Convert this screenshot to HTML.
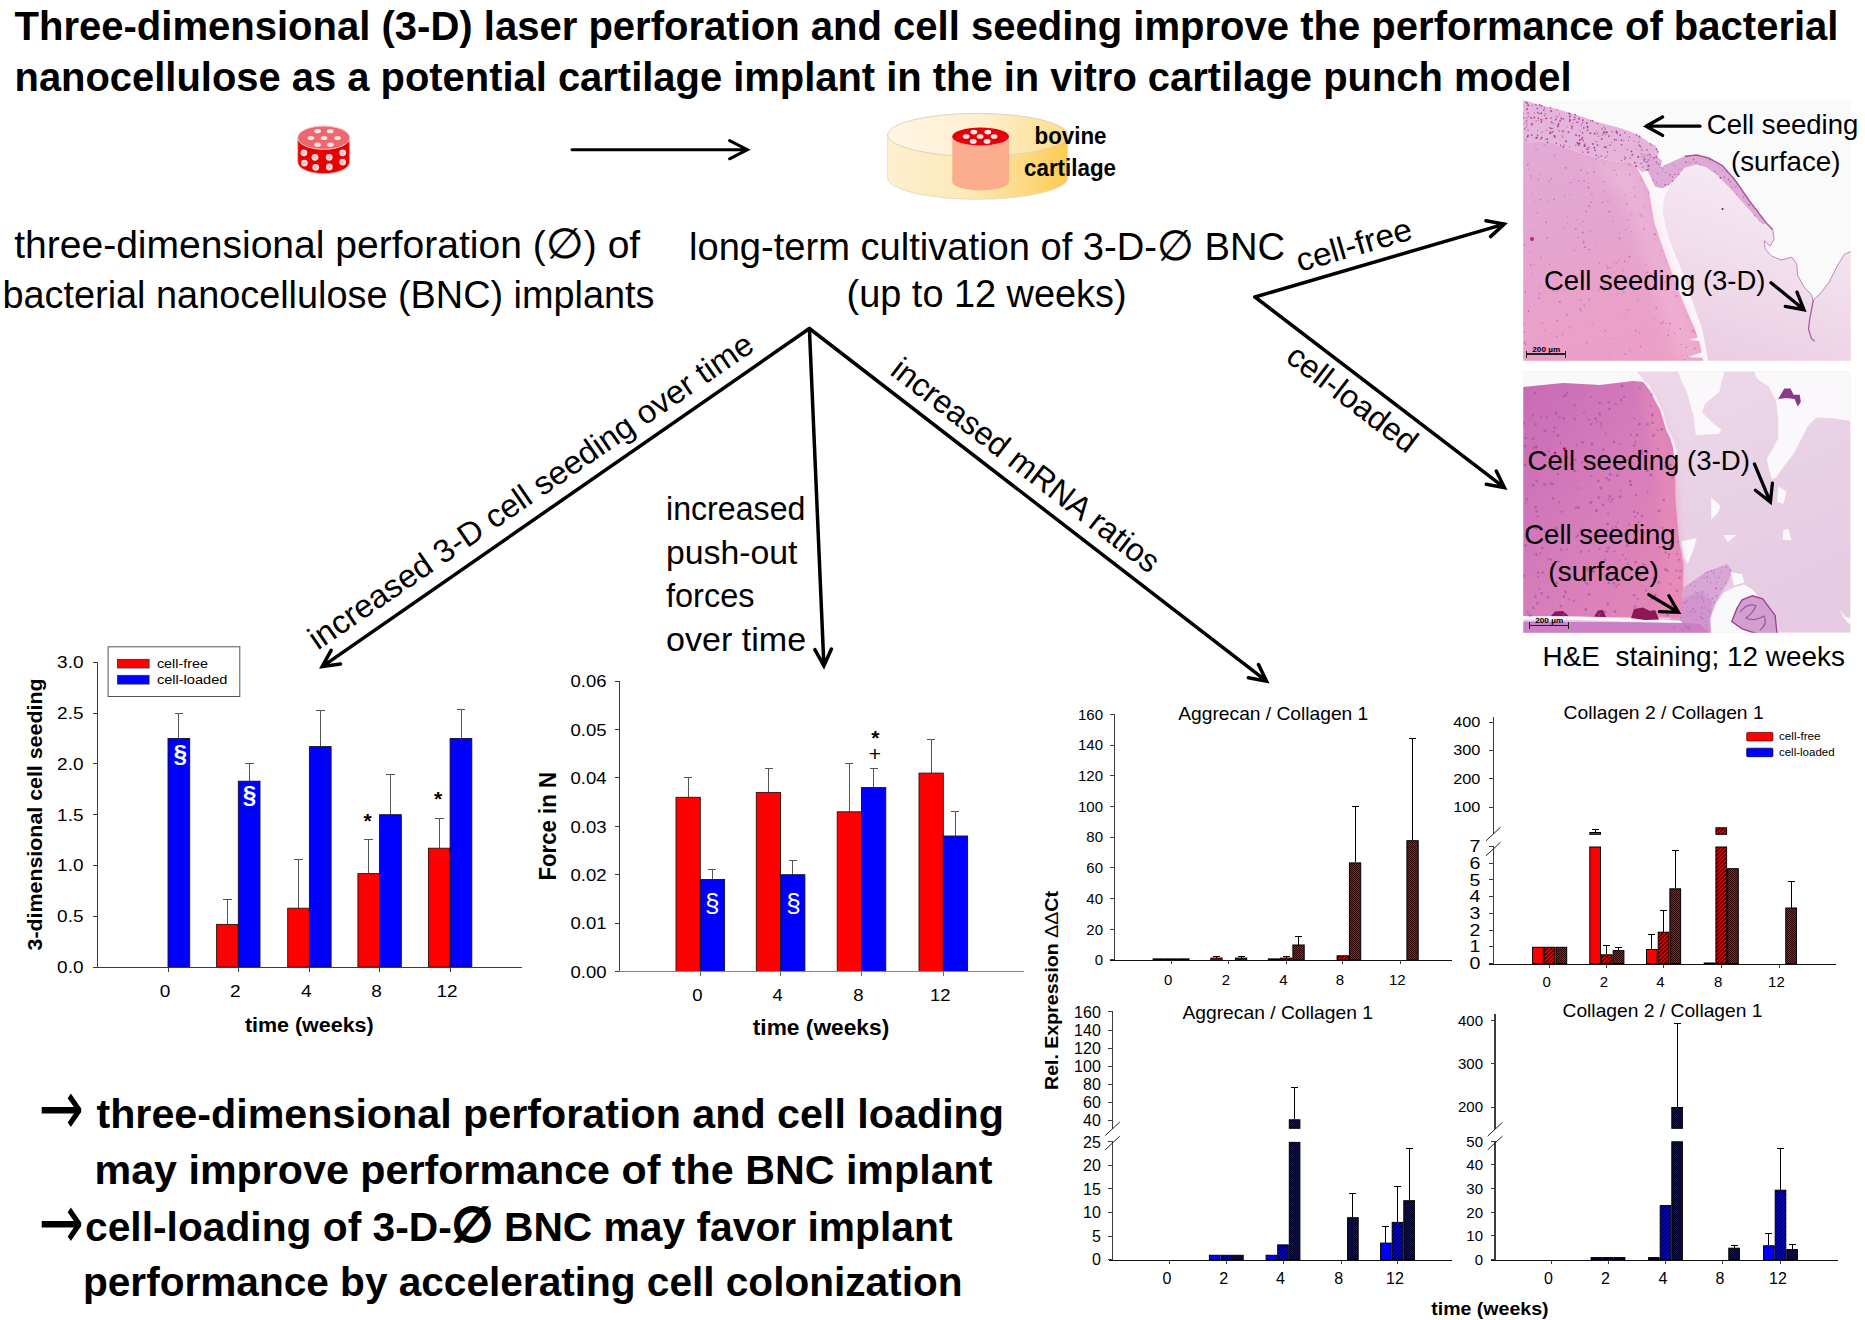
<!DOCTYPE html>
<html lang="en"><head><meta charset="utf-8"><title>Graphical abstract</title>
<style>
html,body{margin:0;padding:0;background:#fff}
body{width:1865px;height:1320px;overflow:hidden}
svg{display:block}
text{font-family:"Liberation Sans", sans-serif;white-space:pre}
</style></head><body>
<svg width="1865" height="1320" viewBox="0 0 1865 1320">
<rect width="1865" height="1320" fill="#fff"/>
<defs><clipPath id="c1"><rect x="1523.2" y="99.5" width="327.6" height="261.3"/></clipPath><filter id="b1" x="-5%" y="-5%" width="110%" height="110%"><feGaussianBlur stdDeviation="0.7"/></filter><filter id="b3" x="-10%" y="-10%" width="120%" height="120%"><feGaussianBlur stdDeviation="5"/></filter><filter id="b4" x="-30%" y="-30%" width="160%" height="160%"><feGaussianBlur stdDeviation="9"/></filter><linearGradient id="gA1" x1="0" y1="0" x2="0.25" y2="1"><stop offset="0" stop-color="#e3aad6"/><stop offset="0.45" stop-color="#e4a4d0"/><stop offset="1" stop-color="#eb9fc6"/></linearGradient><linearGradient id="gC1" x1="0.6" y1="0" x2="0.3" y2="1"><stop offset="0" stop-color="#f7edf4"/><stop offset="0.5" stop-color="#f1deec"/><stop offset="1" stop-color="#ebcde2"/></linearGradient></defs>
<g clip-path="url(#c1)">
<rect x="1523.2" y="99.5" width="327.6" height="261.3" fill="#fbfafb" />
<g filter="url(#b1)">
<path d="M1520.0 99.5 L1539.3 104.7 L1558.6 109.5 L1577.9 115.3 L1597.2 122.0 L1616.5 126.9 L1631.0 131.7 L1640.6 136.5 L1650.3 143.3 L1655.1 145.2 L1659.0 152.0 L1657.1 156.8 L1650.0 170.0 L1642.0 172.0 L1635.8 166.4 L1631.0 161.6 L1616.5 161.6 L1597.2 157.7 L1577.9 151.9 L1553.8 143.3 L1539.3 141.3 L1520.0 143.5Z" fill="#e4b4da"/>
<path d="M1520.0 143.5 L1539.3 141.3 L1553.8 143.3 L1577.9 151.9 L1597.2 157.7 L1616.5 161.6 L1631.0 161.6 L1635.8 166.4 L1638.7 170.7 L1649.0 191.1 L1654.1 221.8 L1660.9 242.3 L1669.4 266.1 L1679.7 293.4 L1688.2 313.9 L1695.0 329.2 L1700.1 344.5 L1703.5 363.0 L1520.0 363.0Z" fill="url(#gA1)"/>
<path d="M1590 160 L1636 166 L1652 215 L1680 293 L1702 361 L1680 361 L1650 270 L1625 200 Z" fill="#f3c4de" fill-opacity="0.5" filter="url(#b4)"/>
<path d="M1672.8 162.2 L1684.8 156.2 L1696.7 155.0 L1708.6 157.9 L1722.3 165.6 L1735.0 180.0 L1749.3 200.7 L1767.2 224.1 L1772.7 229.6 L1774.1 239.3 L1770.0 246.2 L1764.4 240.7 L1765.1 248.9 L1771.3 255.8 L1781.0 260.0 L1792.0 257.2 L1796.8 264.1 L1797.5 275.1 L1804.4 287.5 L1811.3 294.4 L1813.4 301.3 L1813.4 299.9 L1819.6 294.4 L1829.2 282.0 L1837.5 265.5 L1844.4 254.4 L1852.0 251.0 L1852.0 363.0 L1708.6 363.0 L1705.2 344.5 L1701.8 327.5 L1696.7 313.9 L1689.9 293.4 L1681.4 269.5 L1672.8 249.1 L1666.0 228.6 L1662.6 211.6 L1664.3 196.2 L1671.1 184.3 L1676.4 178.0Z" fill="url(#gC1)"/>
<path d="M1640.6 152.9 L1657.1 156.8 L1661.9 160.6 L1661.0 167.0 L1670.6 162.6 L1684.1 156.2 L1696.7 154.5 L1708.6 157.4 L1722.3 165.1 L1735.0 179.5 L1749.3 200.2 L1767.2 223.6 L1762.0 224.0 L1745.0 205.0 L1730.0 188.0 L1717.0 175.0 L1706.0 167.0 L1696.0 164.5 L1684.1 168.0 L1676.4 178.0 L1670.6 183.8 L1662.8 188.6 L1655.1 186.7 L1648.4 172.2 L1645.5 162.6Z" fill="#dcaad4"/>
<path d="M1684.8 156.2 L1696.7 155.0 L1708.6 157.9 L1722.3 165.6 L1735.0 180.0 L1749.3 200.7 L1767.2 224.1 L1772.7 229.6" fill="none" stroke="#a04898" stroke-width="1.5" stroke-opacity="0.85"/>
<path d="M1772.7 229.6 L1774.1 239.3 L1770.0 246.2 L1764.4 240.7 L1765.1 248.9 L1771.3 255.8 L1781.0 260.0 L1792.0 257.2 L1796.8 264.1 L1797.5 275.1 L1804.4 287.5 L1811.3 294.4 L1813.4 301.3" fill="none" stroke="#b070b0" stroke-width="1" stroke-opacity="0.8"/>
<path d="M1813.4 300.0 L1809.9 317.8 L1808.5 328.9 L1811.3 338.5 L1814.7 341.3" fill="none" stroke="#a04898" stroke-width="1.3" stroke-opacity="0.85"/>
<path d="M1852.0 251.0 L1844.4 254.4 L1837.5 265.5 L1829.2 282.0 L1819.6 294.4 L1813.4 299.9" fill="none" stroke="#b070b0" stroke-width="1" stroke-opacity="0.8"/>
<path d="M1689 340 L1703 336 L1700 341 Z M1688 357 L1706 351 L1707 358 Z" fill="#f9f4f8"/>
</g>
<g fill="#a0308c" fill-opacity="0.8"><circle cx="1569.1" cy="113.2" r="0.8"/><circle cx="1536.1" cy="137.9" r="0.9"/><circle cx="1540.8" cy="119.7" r="0.8"/><circle cx="1657.6" cy="151.7" r="0.7"/><circle cx="1543.7" cy="110.2" r="0.7"/><circle cx="1605.7" cy="157.3" r="0.7"/><circle cx="1531.7" cy="118.1" r="0.8"/><circle cx="1583.8" cy="127.9" r="0.8"/><circle cx="1587.5" cy="126.6" r="0.9"/><circle cx="1604.7" cy="147.0" r="0.9"/><circle cx="1631.6" cy="151.4" r="0.9"/><circle cx="1607.5" cy="152.0" r="0.7"/><circle cx="1526.4" cy="141.3" r="0.6"/><circle cx="1539.8" cy="104.8" r="0.9"/><circle cx="1541.5" cy="121.9" r="0.7"/><circle cx="1586.9" cy="149.2" r="0.9"/><circle cx="1562.7" cy="137.1" r="0.7"/><circle cx="1544.6" cy="115.4" r="0.6"/><circle cx="1556.3" cy="143.4" r="0.8"/><circle cx="1582.6" cy="132.9" r="0.8"/><circle cx="1596.3" cy="155.4" r="0.8"/><circle cx="1636.3" cy="135.0" r="0.7"/><circle cx="1532.0" cy="105.6" r="0.6"/><circle cx="1546.2" cy="130.3" r="0.5"/><circle cx="1523.2" cy="113.2" r="0.6"/><circle cx="1647.2" cy="155.1" r="0.6"/><circle cx="1559.0" cy="130.9" r="0.7"/><circle cx="1537.7" cy="130.5" r="0.6"/><circle cx="1645.6" cy="162.5" r="0.6"/><circle cx="1575.2" cy="114.6" r="0.9"/><circle cx="1569.9" cy="119.7" r="0.9"/><circle cx="1596.6" cy="131.7" r="0.5"/><circle cx="1527.2" cy="124.8" r="0.6"/><circle cx="1574.9" cy="119.5" r="0.6"/><circle cx="1551.1" cy="118.0" r="0.8"/><circle cx="1579.3" cy="135.8" r="1.0"/><circle cx="1541.2" cy="113.2" r="1.0"/><circle cx="1616.4" cy="131.2" r="0.8"/><circle cx="1558.9" cy="126.0" r="0.6"/><circle cx="1588.2" cy="152.3" r="1.0"/><circle cx="1594.3" cy="147.6" r="0.8"/><circle cx="1525.9" cy="139.3" r="0.6"/><circle cx="1547.6" cy="142.4" r="0.9"/><circle cx="1602.1" cy="129.0" r="0.8"/><circle cx="1558.4" cy="124.6" r="0.9"/><circle cx="1595.2" cy="150.3" r="0.9"/><circle cx="1610.1" cy="145.3" r="0.8"/><circle cx="1621.4" cy="140.4" r="0.8"/><circle cx="1540.4" cy="139.5" r="0.5"/><circle cx="1624.7" cy="159.3" r="0.6"/><circle cx="1579.7" cy="143.6" r="1.0"/><circle cx="1584.4" cy="146.2" r="0.7"/><circle cx="1551.0" cy="128.3" r="0.9"/><circle cx="1541.6" cy="137.7" r="1.0"/><circle cx="1535.9" cy="104.7" r="0.8"/><circle cx="1656.3" cy="156.9" r="0.9"/><circle cx="1587.5" cy="130.2" r="0.8"/><circle cx="1557.0" cy="109.4" r="0.6"/><circle cx="1530.3" cy="117.8" r="0.7"/><circle cx="1564.3" cy="144.8" r="0.6"/><circle cx="1627.2" cy="149.4" r="0.6"/><circle cx="1584.5" cy="144.3" r="0.9"/><circle cx="1578.9" cy="145.4" r="0.8"/><circle cx="1641.2" cy="163.5" r="0.8"/><circle cx="1580.6" cy="131.0" r="0.5"/><circle cx="1541.6" cy="105.9" r="0.9"/><circle cx="1559.4" cy="114.3" r="0.5"/><circle cx="1557.5" cy="126.0" r="0.7"/><circle cx="1545.5" cy="139.8" r="0.6"/><circle cx="1577.3" cy="142.5" r="0.8"/><circle cx="1523.9" cy="123.4" r="0.5"/><circle cx="1526.4" cy="127.0" r="0.6"/><circle cx="1606.2" cy="147.4" r="0.9"/><circle cx="1597.5" cy="145.1" r="0.9"/><circle cx="1542.1" cy="132.1" r="0.6"/><circle cx="1641.7" cy="150.0" r="0.8"/><circle cx="1594.5" cy="147.9" r="0.8"/><circle cx="1577.4" cy="142.9" r="0.8"/><circle cx="1632.0" cy="155.3" r="0.8"/><circle cx="1534.2" cy="112.8" r="0.6"/><circle cx="1531.8" cy="123.8" r="0.8"/><circle cx="1621.4" cy="160.7" r="0.6"/><circle cx="1596.4" cy="141.6" r="0.7"/><circle cx="1561.3" cy="118.5" r="1.0"/><circle cx="1639.5" cy="145.5" r="0.9"/><circle cx="1650.5" cy="143.5" r="0.5"/><circle cx="1587.1" cy="126.8" r="0.6"/><circle cx="1572.0" cy="128.1" r="0.9"/><circle cx="1576.0" cy="135.1" r="1.0"/><circle cx="1606.7" cy="132.1" r="0.7"/><circle cx="1558.6" cy="123.5" r="0.8"/><circle cx="1550.1" cy="133.3" r="1.0"/><circle cx="1656.6" cy="149.2" r="0.9"/><circle cx="1571.9" cy="126.4" r="0.9"/><circle cx="1602.2" cy="135.2" r="0.6"/><circle cx="1546.1" cy="118.3" r="1.0"/><circle cx="1550.5" cy="107.7" r="0.7"/><circle cx="1536.1" cy="121.1" r="0.6"/><circle cx="1629.5" cy="136.9" r="0.7"/><circle cx="1597.5" cy="133.6" r="0.7"/><circle cx="1532.0" cy="124.6" r="1.0"/><circle cx="1553.8" cy="124.0" r="0.6"/><circle cx="1579.9" cy="139.9" r="1.0"/><circle cx="1526.3" cy="102.4" r="0.9"/><circle cx="1538.7" cy="113.5" r="0.8"/><circle cx="1625.5" cy="158.1" r="0.9"/><circle cx="1588.0" cy="149.4" r="0.5"/><circle cx="1653.6" cy="157.9" r="0.7"/><circle cx="1541.3" cy="122.3" r="0.8"/><circle cx="1605.9" cy="134.6" r="0.6"/><circle cx="1566.0" cy="141.2" r="1.0"/><circle cx="1590.6" cy="120.7" r="0.6"/><circle cx="1582.8" cy="122.8" r="0.8"/><circle cx="1528.0" cy="130.1" r="0.7"/><circle cx="1636.2" cy="166.4" r="0.8"/><circle cx="1555.9" cy="119.5" r="0.9"/><circle cx="1554.9" cy="137.2" r="0.8"/><circle cx="1579.0" cy="118.8" r="1.0"/><circle cx="1531.7" cy="135.1" r="0.9"/><circle cx="1648.5" cy="165.8" r="1.0"/><circle cx="1617.4" cy="133.8" r="0.7"/><circle cx="1570.2" cy="114.8" r="0.5"/><circle cx="1562.9" cy="131.3" r="1.0"/><circle cx="1552.6" cy="131.8" r="0.9"/><circle cx="1639.8" cy="138.6" r="0.5"/><circle cx="1590.3" cy="133.2" r="1.0"/><circle cx="1550.6" cy="132.5" r="0.9"/><circle cx="1527.5" cy="136.7" r="0.9"/><circle cx="1528.1" cy="105.2" r="1.0"/><circle cx="1526.6" cy="120.7" r="0.7"/><circle cx="1578.0" cy="122.2" r="0.7"/><circle cx="1632.8" cy="154.5" r="0.7"/><circle cx="1568.5" cy="132.2" r="0.9"/><circle cx="1534.4" cy="117.4" r="0.9"/><circle cx="1623.8" cy="140.0" r="0.6"/><circle cx="1643.3" cy="159.6" r="0.6"/><circle cx="1603.6" cy="133.3" r="0.9"/><circle cx="1551.4" cy="121.9" r="0.6"/><circle cx="1605.2" cy="129.0" r="0.7"/><circle cx="1586.9" cy="123.0" r="0.9"/><circle cx="1607.7" cy="155.6" r="0.6"/><circle cx="1552.1" cy="122.6" r="0.8"/><circle cx="1524.8" cy="129.1" r="0.8"/><circle cx="1549.5" cy="127.8" r="0.6"/><circle cx="1636.0" cy="149.1" r="0.5"/><circle cx="1537.6" cy="135.3" r="0.8"/><circle cx="1581.3" cy="125.1" r="0.7"/><circle cx="1603.5" cy="131.8" r="0.7"/><circle cx="1574.8" cy="117.3" r="0.9"/><circle cx="1639.5" cy="136.3" r="0.9"/><circle cx="1575.8" cy="145.2" r="0.6"/><circle cx="1563.4" cy="146.7" r="1.0"/><circle cx="1551.2" cy="111.0" r="1.0"/><circle cx="1554.7" cy="136.1" r="0.9"/><circle cx="1554.1" cy="135.7" r="0.8"/><circle cx="1601.2" cy="156.2" r="0.7"/><circle cx="1582.8" cy="152.2" r="0.7"/><circle cx="1616.6" cy="139.9" r="0.7"/><circle cx="1592.6" cy="120.8" r="0.9"/><circle cx="1633.8" cy="141.0" r="0.6"/><circle cx="1541.4" cy="138.5" r="0.5"/><circle cx="1585.9" cy="145.7" r="0.5"/><circle cx="1594.7" cy="133.7" r="1.0"/><circle cx="1560.5" cy="145.3" r="0.7"/><circle cx="1528.4" cy="116.0" r="0.6"/><circle cx="1598.5" cy="157.1" r="0.7"/><circle cx="1647.0" cy="149.7" r="0.8"/><circle cx="1605.1" cy="132.1" r="0.9"/><circle cx="1528.0" cy="113.0" r="0.8"/><circle cx="1584.5" cy="145.9" r="0.9"/><circle cx="1541.9" cy="120.1" r="0.8"/><circle cx="1573.8" cy="119.8" r="0.8"/><circle cx="1611.7" cy="142.5" r="0.6"/><circle cx="1544.4" cy="108.2" r="0.8"/><circle cx="1646.7" cy="170.3" r="0.7"/><circle cx="1614.7" cy="150.4" r="0.7"/><circle cx="1614.7" cy="139.7" r="1.0"/><circle cx="1598.6" cy="136.2" r="0.6"/><circle cx="1567.1" cy="126.7" r="0.5"/><circle cx="1642.9" cy="166.9" r="0.7"/><circle cx="1628.4" cy="140.5" r="0.6"/><circle cx="1538.1" cy="120.5" r="0.5"/><circle cx="1601.7" cy="139.0" r="0.9"/><circle cx="1597.4" cy="123.5" r="0.8"/><circle cx="1560.1" cy="120.9" r="0.9"/><circle cx="1569.8" cy="121.1" r="1.0"/><circle cx="1604.1" cy="127.4" r="0.6"/><circle cx="1527.0" cy="109.2" r="1.0"/><circle cx="1527.3" cy="103.3" r="0.8"/><circle cx="1606.9" cy="132.4" r="0.9"/><circle cx="1538.4" cy="118.1" r="0.6"/><circle cx="1638.3" cy="156.9" r="0.9"/><circle cx="1537.4" cy="108.4" r="0.9"/><circle cx="1552.3" cy="128.4" r="0.7"/><circle cx="1526.2" cy="122.7" r="0.6"/><circle cx="1624.7" cy="132.8" r="0.7"/><circle cx="1643.9" cy="155.5" r="0.5"/><circle cx="1581.8" cy="139.0" r="0.9"/><circle cx="1523.4" cy="117.8" r="0.9"/><circle cx="1592.8" cy="144.0" r="0.9"/><circle cx="1563.4" cy="118.9" r="0.8"/><circle cx="1634.9" cy="162.6" r="0.9"/><circle cx="1612.2" cy="131.7" r="0.7"/><circle cx="1526.8" cy="118.2" r="0.6"/><circle cx="1651.0" cy="144.9" r="0.7"/><circle cx="1588.6" cy="147.6" r="0.9"/><circle cx="1630.0" cy="158.0" r="0.7"/><circle cx="1569.5" cy="113.6" r="0.9"/><circle cx="1547.2" cy="139.2" r="0.9"/><circle cx="1556.9" cy="116.8" r="0.7"/><circle cx="1545.1" cy="113.6" r="0.6"/><circle cx="1569.5" cy="146.8" r="0.6"/><circle cx="1569.7" cy="116.6" r="1.0"/><circle cx="1635.9" cy="165.9" r="0.7"/><circle cx="1538.4" cy="118.2" r="0.7"/><circle cx="1528.0" cy="135.6" r="0.9"/><circle cx="1621.5" cy="144.8" r="0.8"/><circle cx="1608.8" cy="136.1" r="0.9"/><circle cx="1582.9" cy="120.2" r="0.9"/><circle cx="1648.0" cy="169.6" r="0.9"/><circle cx="1644.1" cy="161.0" r="0.8"/><circle cx="1587.6" cy="127.8" r="0.8"/><circle cx="1537.1" cy="137.5" r="0.9"/><circle cx="1624.3" cy="156.5" r="0.6"/><circle cx="1583.3" cy="140.7" r="0.8"/><circle cx="1578.3" cy="143.8" r="1.0"/><circle cx="1640.8" cy="146.7" r="0.7"/><circle cx="1620.2" cy="135.0" r="0.9"/><circle cx="1562.1" cy="135.7" r="0.5"/><circle cx="1582.6" cy="137.6" r="0.8"/><circle cx="1573.1" cy="123.5" r="0.6"/><circle cx="1636.9" cy="135.0" r="0.6"/><circle cx="1638.0" cy="156.9" r="0.7"/><circle cx="1638.9" cy="141.9" r="0.6"/><circle cx="1576.5" cy="122.4" r="0.7"/><circle cx="1557.9" cy="126.8" r="0.7"/><circle cx="1616.7" cy="132.3" r="1.0"/><circle cx="1641.1" cy="156.8" r="0.5"/><circle cx="1537.6" cy="112.4" r="0.6"/><circle cx="1649.6" cy="154.6" r="0.9"/></g>
<g fill="#a0308c" fill-opacity="0.8"><circle cx="1714.9" cy="171.2" r="0.5"/><circle cx="1724.4" cy="177.1" r="0.7"/><circle cx="1668.4" cy="184.8" r="0.6"/><circle cx="1653.7" cy="164.5" r="0.4"/><circle cx="1728.5" cy="179.5" r="0.7"/><circle cx="1674.8" cy="174.2" r="0.6"/><circle cx="1645.3" cy="159.5" r="0.7"/><circle cx="1755.5" cy="208.4" r="0.4"/><circle cx="1716.5" cy="173.4" r="0.4"/><circle cx="1748.9" cy="204.8" r="0.8"/><circle cx="1686.8" cy="156.8" r="0.6"/><circle cx="1731.5" cy="187.2" r="0.5"/><circle cx="1665.5" cy="165.4" r="0.5"/><circle cx="1709.8" cy="161.9" r="0.4"/><circle cx="1720.6" cy="177.6" r="0.6"/><circle cx="1693.6" cy="159.6" r="0.8"/><circle cx="1730.4" cy="181.4" r="0.6"/><circle cx="1762.1" cy="217.0" r="0.4"/><circle cx="1647.5" cy="161.6" r="0.7"/><circle cx="1662.8" cy="169.1" r="0.5"/><circle cx="1658.9" cy="185.8" r="0.4"/><circle cx="1659.3" cy="167.7" r="0.4"/><circle cx="1736.4" cy="194.3" r="0.5"/><circle cx="1695.6" cy="162.5" r="0.5"/><circle cx="1674.8" cy="166.1" r="0.5"/><circle cx="1686.0" cy="161.2" r="0.4"/><circle cx="1665.1" cy="184.8" r="0.8"/><circle cx="1658.6" cy="164.4" r="0.7"/><circle cx="1650.7" cy="157.0" r="0.6"/><circle cx="1718.7" cy="166.2" r="0.4"/><circle cx="1689.6" cy="163.1" r="0.5"/><circle cx="1709.6" cy="159.7" r="0.7"/><circle cx="1644.1" cy="157.7" r="0.7"/><circle cx="1656.5" cy="182.5" r="0.5"/><circle cx="1672.5" cy="176.8" r="0.6"/><circle cx="1759.4" cy="220.8" r="0.4"/><circle cx="1726.6" cy="171.3" r="0.7"/><circle cx="1678.8" cy="174.4" r="0.7"/><circle cx="1712.1" cy="161.9" r="0.4"/><circle cx="1657.7" cy="173.5" r="0.6"/><circle cx="1678.9" cy="169.5" r="0.4"/><circle cx="1735.9" cy="186.9" r="0.6"/><circle cx="1681.9" cy="169.4" r="0.5"/><circle cx="1754.7" cy="215.7" r="0.6"/><circle cx="1743.4" cy="196.9" r="0.6"/><circle cx="1699.9" cy="164.7" r="0.5"/><circle cx="1641.4" cy="153.8" r="0.6"/><circle cx="1720.3" cy="178.1" r="0.8"/><circle cx="1653.4" cy="180.0" r="0.6"/><circle cx="1696.8" cy="162.5" r="0.5"/><circle cx="1656.4" cy="162.5" r="0.7"/><circle cx="1654.4" cy="158.0" r="0.5"/><circle cx="1662.9" cy="171.3" r="0.4"/><circle cx="1723.7" cy="169.9" r="0.4"/><circle cx="1672.8" cy="181.2" r="0.7"/><circle cx="1669.9" cy="174.7" r="0.8"/><circle cx="1672.9" cy="163.9" r="0.5"/><circle cx="1648.8" cy="159.9" r="0.7"/><circle cx="1665.8" cy="172.7" r="0.5"/><circle cx="1686.1" cy="162.5" r="0.7"/></g>
<g fill="#a848a8" fill-opacity="0.6"><circle cx="1540.5" cy="199.5" r="0.8"/><circle cx="1547.1" cy="237.9" r="0.8"/><circle cx="1589.1" cy="299.5" r="0.7"/><circle cx="1565.7" cy="240.0" r="0.6"/><circle cx="1591.9" cy="194.4" r="0.7"/><circle cx="1562.9" cy="332.6" r="0.5"/><circle cx="1619.0" cy="259.8" r="0.6"/><circle cx="1646.0" cy="265.3" r="0.6"/><circle cx="1596.0" cy="159.0" r="0.6"/><circle cx="1628.2" cy="219.8" r="0.7"/><circle cx="1578.7" cy="154.6" r="0.6"/><circle cx="1565.5" cy="167.9" r="0.8"/><circle cx="1575.9" cy="229.1" r="0.9"/><circle cx="1668.0" cy="334.9" r="0.8"/><circle cx="1547.9" cy="201.1" r="0.5"/><circle cx="1650.2" cy="286.5" r="0.6"/><circle cx="1600.3" cy="285.5" r="0.8"/><circle cx="1569.6" cy="327.0" r="0.6"/><circle cx="1640.7" cy="180.1" r="0.5"/><circle cx="1530.7" cy="175.8" r="0.6"/><circle cx="1579.8" cy="224.1" r="0.5"/><circle cx="1581.3" cy="280.9" r="0.6"/><circle cx="1604.4" cy="291.1" r="0.6"/><circle cx="1523.4" cy="324.2" r="0.8"/><circle cx="1532.0" cy="194.0" r="0.5"/><circle cx="1539.3" cy="293.4" r="0.7"/><circle cx="1662.8" cy="323.0" r="0.6"/><circle cx="1540.0" cy="349.0" r="0.7"/><circle cx="1661.2" cy="323.3" r="0.8"/><circle cx="1653.6" cy="234.6" r="0.7"/><circle cx="1654.5" cy="317.9" r="0.6"/><circle cx="1625.3" cy="354.0" r="0.8"/><circle cx="1624.8" cy="195.1" r="0.5"/><circle cx="1590.0" cy="230.9" r="0.6"/><circle cx="1581.2" cy="170.2" r="0.8"/><circle cx="1648.4" cy="192.5" r="0.6"/><circle cx="1619.5" cy="238.3" r="0.9"/><circle cx="1588.9" cy="206.1" r="0.9"/><circle cx="1549.7" cy="264.4" r="0.6"/><circle cx="1647.7" cy="272.2" r="0.7"/><circle cx="1666.3" cy="323.5" r="0.5"/><circle cx="1577.2" cy="219.6" r="0.6"/><circle cx="1534.5" cy="202.0" r="0.6"/><circle cx="1654.3" cy="238.9" r="0.5"/><circle cx="1583.8" cy="243.5" r="0.6"/><circle cx="1554.6" cy="155.9" r="0.5"/><circle cx="1538.9" cy="298.3" r="0.9"/><circle cx="1628.5" cy="164.0" r="0.7"/><circle cx="1604.3" cy="181.9" r="0.7"/><circle cx="1524.8" cy="343.0" r="0.8"/><circle cx="1640.5" cy="346.5" r="0.8"/><circle cx="1570.2" cy="194.3" r="0.6"/><circle cx="1528.4" cy="311.0" r="0.8"/><circle cx="1578.6" cy="181.0" r="0.8"/><circle cx="1681.2" cy="344.6" r="0.6"/><circle cx="1669.8" cy="323.4" r="0.8"/><circle cx="1584.2" cy="180.7" r="0.8"/><circle cx="1583.0" cy="221.4" r="0.7"/><circle cx="1592.2" cy="323.6" r="0.6"/><circle cx="1530.9" cy="265.2" r="0.8"/><circle cx="1676.3" cy="295.8" r="0.9"/><circle cx="1616.5" cy="174.8" r="0.6"/><circle cx="1606.0" cy="354.1" r="0.5"/><circle cx="1530.7" cy="237.0" r="0.6"/><circle cx="1680.3" cy="328.9" r="0.8"/><circle cx="1602.7" cy="202.5" r="0.8"/><circle cx="1619.3" cy="233.0" r="0.6"/><circle cx="1605.1" cy="287.1" r="0.8"/><circle cx="1578.4" cy="237.8" r="0.7"/><circle cx="1588.2" cy="183.1" r="0.5"/><circle cx="1583.7" cy="241.7" r="0.9"/><circle cx="1692.9" cy="331.1" r="0.9"/><circle cx="1649.6" cy="274.5" r="0.6"/><circle cx="1629.9" cy="350.4" r="0.7"/><circle cx="1644.1" cy="206.1" r="0.6"/><circle cx="1558.5" cy="289.9" r="0.7"/><circle cx="1539.1" cy="285.8" r="0.6"/><circle cx="1631.7" cy="231.9" r="0.7"/><circle cx="1628.7" cy="227.5" r="0.5"/><circle cx="1556.9" cy="336.5" r="0.7"/><circle cx="1544.2" cy="330.4" r="0.6"/><circle cx="1540.9" cy="257.2" r="0.6"/><circle cx="1614.6" cy="262.3" r="0.6"/><circle cx="1630.2" cy="165.0" r="0.7"/><circle cx="1605.3" cy="330.7" r="0.7"/><circle cx="1656.7" cy="307.1" r="0.5"/><circle cx="1542.3" cy="323.3" r="0.7"/><circle cx="1555.2" cy="352.0" r="0.7"/><circle cx="1567.5" cy="222.2" r="0.5"/><circle cx="1634.2" cy="187.1" r="0.6"/><circle cx="1655.3" cy="234.1" r="0.9"/><circle cx="1639.2" cy="332.6" r="0.7"/><circle cx="1694.6" cy="332.3" r="0.6"/><circle cx="1665.8" cy="290.3" r="0.8"/><circle cx="1546.1" cy="222.4" r="0.8"/><circle cx="1531.3" cy="273.3" r="0.5"/><circle cx="1625.7" cy="317.3" r="0.5"/><circle cx="1570.8" cy="182.6" r="0.7"/><circle cx="1544.4" cy="144.6" r="0.5"/><circle cx="1626.7" cy="204.0" r="0.8"/><circle cx="1594.3" cy="171.8" r="0.9"/><circle cx="1623.8" cy="292.2" r="0.8"/><circle cx="1587.2" cy="173.3" r="0.7"/><circle cx="1686.3" cy="316.7" r="0.5"/><circle cx="1557.3" cy="320.7" r="0.8"/><circle cx="1596.5" cy="245.0" r="0.6"/><circle cx="1537.4" cy="212.7" r="0.6"/><circle cx="1531.4" cy="177.5" r="0.6"/><circle cx="1610.6" cy="267.4" r="0.7"/><circle cx="1631.4" cy="213.7" r="0.5"/><circle cx="1609.0" cy="357.8" r="0.5"/><circle cx="1550.4" cy="288.2" r="0.6"/><circle cx="1574.3" cy="250.4" r="0.6"/><circle cx="1629.5" cy="256.6" r="0.9"/><circle cx="1627.9" cy="310.2" r="0.8"/><circle cx="1667.8" cy="279.8" r="0.8"/><circle cx="1591.0" cy="202.2" r="0.8"/><circle cx="1686.2" cy="347.3" r="0.8"/><circle cx="1580.0" cy="308.5" r="0.8"/><circle cx="1618.3" cy="280.3" r="0.6"/><circle cx="1626.1" cy="229.6" r="0.5"/><circle cx="1586.2" cy="211.4" r="0.9"/><circle cx="1613.1" cy="221.1" r="0.6"/><circle cx="1567.1" cy="217.1" r="0.6"/><circle cx="1524.6" cy="332.3" r="0.7"/><circle cx="1606.4" cy="265.6" r="0.6"/><circle cx="1554.8" cy="154.6" r="0.6"/><circle cx="1580.8" cy="300.4" r="0.7"/><circle cx="1538.1" cy="179.5" r="0.7"/><circle cx="1613.7" cy="338.5" r="0.6"/><circle cx="1553.9" cy="199.2" r="0.8"/><circle cx="1564.0" cy="228.2" r="0.6"/><circle cx="1635.8" cy="330.8" r="0.8"/><circle cx="1559.9" cy="302.0" r="0.9"/><circle cx="1674.4" cy="333.3" r="0.6"/><circle cx="1548.7" cy="181.5" r="0.7"/><circle cx="1584.2" cy="305.5" r="0.8"/><circle cx="1598.9" cy="289.9" r="0.6"/><circle cx="1533.9" cy="231.5" r="0.5"/><circle cx="1640.2" cy="213.9" r="0.7"/><circle cx="1634.9" cy="196.7" r="0.7"/><circle cx="1525.7" cy="344.3" r="0.7"/><circle cx="1637.9" cy="299.9" r="0.6"/><circle cx="1540.7" cy="174.5" r="0.6"/><circle cx="1623.8" cy="269.9" r="0.7"/><circle cx="1646.0" cy="272.8" r="0.6"/><circle cx="1656.1" cy="308.5" r="0.8"/><circle cx="1581.0" cy="310.6" r="0.9"/><circle cx="1607.9" cy="201.4" r="0.7"/><circle cx="1524.9" cy="245.0" r="0.8"/><circle cx="1528.4" cy="169.6" r="0.5"/><circle cx="1616.9" cy="262.6" r="0.6"/><circle cx="1551.1" cy="179.2" r="0.8"/><circle cx="1528.6" cy="311.8" r="0.6"/><circle cx="1642.0" cy="216.0" r="0.8"/><circle cx="1609.1" cy="211.5" r="0.9"/><circle cx="1543.3" cy="301.9" r="0.5"/><circle cx="1643.8" cy="228.7" r="0.8"/><circle cx="1534.4" cy="264.6" r="0.7"/><circle cx="1694.9" cy="348.6" r="0.8"/><circle cx="1565.1" cy="195.6" r="0.6"/><circle cx="1604.2" cy="191.1" r="0.6"/><circle cx="1665.0" cy="281.9" r="0.6"/><circle cx="1629.6" cy="174.6" r="0.8"/><circle cx="1663.6" cy="321.7" r="0.6"/><circle cx="1585.1" cy="247.2" r="0.9"/><circle cx="1553.4" cy="290.8" r="0.7"/><circle cx="1607.8" cy="267.9" r="0.9"/><circle cx="1562.4" cy="335.1" r="0.6"/><circle cx="1668.9" cy="330.6" r="0.6"/><circle cx="1684.6" cy="359.7" r="0.6"/><circle cx="1527.8" cy="164.6" r="0.9"/><circle cx="1525.0" cy="341.3" r="0.6"/><circle cx="1554.7" cy="290.8" r="0.5"/><circle cx="1586.6" cy="342.8" r="0.8"/><circle cx="1687.9" cy="356.3" r="0.5"/><circle cx="1567.0" cy="314.9" r="0.8"/><circle cx="1530.3" cy="251.5" r="0.6"/><circle cx="1603.6" cy="163.2" r="0.5"/><circle cx="1614.2" cy="170.0" r="0.7"/><circle cx="1556.6" cy="291.3" r="0.6"/><circle cx="1661.1" cy="250.6" r="0.5"/><circle cx="1589.2" cy="249.6" r="0.9"/><circle cx="1588.5" cy="187.5" r="0.9"/><circle cx="1574.2" cy="179.1" r="0.6"/><circle cx="1536.1" cy="149.5" r="0.7"/><circle cx="1599.4" cy="262.9" r="0.6"/><circle cx="1525.2" cy="291.9" r="0.8"/><circle cx="1624.8" cy="261.2" r="0.8"/><circle cx="1582.7" cy="232.5" r="0.9"/></g>
<circle cx="1532" cy="239" r="2" fill="#c02080"/><circle cx="1722.5" cy="209" r="1" fill="#333"/>
</g>
<line x1="1526.5" y1="354.0" x2="1565.7" y2="354.0" stroke="#222" stroke-width="1.2"  shape-rendering="crispEdges"/>
<line x1="1526.8" y1="351.0" x2="1526.8" y2="357.5" stroke="#222" stroke-width="1.2"  shape-rendering="crispEdges"/>
<line x1="1565.4" y1="351.0" x2="1565.4" y2="357.5" stroke="#222" stroke-width="1.2"  shape-rendering="crispEdges"/>
<text x="1546.3" y="352.0" font-size="6.5" font-weight="bold" text-anchor="middle" textLength="28.0" lengthAdjust="spacingAndGlyphs">200 µm</text>
<text x="1706.8" y="133.6" font-size="28.5" textLength="151.5" lengthAdjust="spacingAndGlyphs">Cell seeding</text>
<text x="1731.0" y="171.4" font-size="28.5" textLength="109.5" lengthAdjust="spacingAndGlyphs">(surface)</text>
<text x="1544.0" y="290.4" font-size="28.5" textLength="221.5" lengthAdjust="spacingAndGlyphs">Cell seeding (3-D)</text>
<path d="M1700.0 126.2L1646.0 126.2M1662.6 135.4L1646.0 126.2L1662.6 117.0" fill="none" stroke="#000" stroke-width="3.3" stroke-linecap="round" stroke-linejoin="miter" stroke-miterlimit="10"/>
<path d="M1771.0 282.7L1804.0 309.8M1797.0 292.1L1804.0 309.8L1785.3 306.4" fill="none" stroke="#000" stroke-width="3.3" stroke-linecap="round" stroke-linejoin="miter" stroke-miterlimit="10"/>
<defs><clipPath id="c2"><rect x="1523.3" y="371.3" width="327.3" height="261.5"/></clipPath><linearGradient id="gA2" x1="0" y1="0" x2="1" y2="0.9"><stop offset="0" stop-color="#c86ab6"/><stop offset="0.5" stop-color="#d67cba"/><stop offset="1" stop-color="#e488b8"/></linearGradient><linearGradient id="gB2" x1="0" y1="0" x2="0.6" y2="1"><stop offset="0" stop-color="#eedbea"/><stop offset="1" stop-color="#e6cbe2"/></linearGradient></defs>
<g clip-path="url(#c2)">
<rect x="1523.3" y="371.3" width="327.3" height="261.5" fill="url(#gB2)" />
<g filter="url(#b1)">
<path d="M1683.4 587.6 L1706.0 572.1 L1727.7 563.9 L1731.8 572.1 L1727.7 582.4 L1721.5 592.7 L1715.3 603.0 L1710.2 618.5 L1711.2 634.0 L1670.0 634.0 L1670.0 621.5 L1680.0 621.5Z" fill="#d8a6d4"/>
<path d="M1680.0 600.0 L1700.0 592.0 L1712.0 600.0 L1710.0 634.0 L1670.0 634.0 L1670.0 620.0Z" fill="#cf90cc" fill-opacity="0.8"/>
<path d="M1520.0 368.0 L1634.0 368.0 L1642.0 378.0 L1646.0 384.0 L1643.0 382.0 L1633.0 381.0 L1600.0 385.0 L1563.0 383.0 L1520.0 387.3Z" fill="#faf8fa"/>
<path d="M1643.0 382.0 L1648.0 383.0 L1656.0 396.0 L1663.0 412.0 L1668.0 428.0 L1674.0 442.0 L1677.0 452.0 L1678.0 462.0 L1675.0 468.0 L1673.0 448.0 L1670.0 438.0 L1666.0 430.0 L1663.0 420.0 L1660.0 410.0 L1655.0 401.0 L1650.0 391.0Z" fill="#faf8fa"/>
<path d="M1677.2 368.0 L1725.6 368.0 L1721.5 381.4 L1719.4 391.7 L1705.0 404.1 L1701.9 412.3 L1713.3 423.6 L1721.5 429.8 L1718.4 433.9 L1695.8 434.9 L1693.7 416.4 L1687.5 393.8 L1681.3 380.4Z" fill="#faf8fa"/>
<path d="M1752.4 368.0 L1855.0 368.0 L1855.0 421.6 L1834.8 418.5 L1816.3 417.4 L1808.0 425.7 L1801.9 438.0 L1793.6 453.5 L1783.3 466.9 L1776.1 477.2 L1772.0 479.2 L1768.9 468.9 L1766.8 458.6 L1773.0 448.3 L1778.2 438.0 L1778.2 419.5 L1776.1 401.0 L1768.9 386.5 L1757.6 379.3Z" fill="#faf8fa"/>
<path d="M1778.2 486.5 L1786.4 491.6 L1783.3 504.0 L1777.1 502.0Z" fill="#faf8fa"/>
<path d="M1711.2 497.0 L1720.5 506.2 L1717.4 513.4 L1711.2 519.6Z" fill="#faf8fa"/>
<path d="M1681.3 541.2 L1696.8 538.1 L1692.7 551.5 L1687.5 563.9 L1684.4 557.7Z" fill="#faf8fa"/>
<path d="M1723.6 535.0 L1735.9 535.0 L1727.7 542.2Z" fill="#faf8fa"/>
<path d="M1783.3 529.9 L1788.5 528.8 L1791.5 540.2 L1782.8 539.7Z" fill="#faf8fa"/>
<path d="M1711.2 634.0 L1710.2 618.5 L1716.4 603.0 L1723.6 592.7 L1733.9 587.6 L1744.2 584.5 L1752.4 589.6 L1759.6 597.9 L1765.8 603.0 L1772.0 613.3 L1777.1 623.6 L1778.2 634.0Z" fill="#faf8fa"/>
<path d="M1730.8 572.1 L1742.1 574.2 L1744.2 582.4 L1733.9 585.5Z" fill="#faf8fa"/>
<path d="M1852.0 618.5 L1845.1 616.4 L1838.9 608.2 L1844.1 618.5 L1852.0 626.7Z" fill="#faf8fa"/>
<path d="M1731.8 621.5 L1737.0 608.2 L1742.1 599.9 L1752.4 595.8 L1762.7 598.9 L1768.9 607.1 L1775.1 615.4 L1777.1 634.0 L1757.6 634.0 L1742.1 628.8Z" fill="#d2a0d0" stroke="#9a409a" stroke-width="1.4"/>
<path d="M1740 612 Q1748 602 1756 606 Q1752 614 1746 618 Q1754 622 1764 616 Q1768 624 1760 630" fill="none" stroke="#a050a4" stroke-width="1.2"/>
<path d="M1520.0 621.6 L1680.0 622.5 L1700.0 624.0 L1711.0 634.0 L1520.0 634.0Z" fill="#cb80c6"/>
<path d="M1520.0 387.3 L1563.0 383.0 L1600.0 385.0 L1633.0 381.0 L1643.0 382.0 L1650.0 391.0 L1655.0 401.0 L1660.0 410.0 L1663.0 420.0 L1666.0 430.0 L1670.0 438.0 L1673.0 448.0 L1675.0 468.0 L1675.5 500.0 L1679.0 541.0 L1683.6 565.0 L1683.0 588.0 L1680.5 613.0 L1680.0 617.5 L1520.0 616.5Z" fill="url(#gA2)"/>
<path d="M1640 383 L1650 391 L1663 420 L1675 468 L1679 541 L1683 588 L1680 617 L1660 617 L1664 560 L1660 480 L1648 420 Z" fill="#ee8fb8" fill-opacity="0.5" filter="url(#b3)"/>
<path d="M1520.0 616.0 L1580.0 616.5 L1640.0 619.0 L1680.0 620.5 L1683.0 623.0 L1640.0 622.0 L1580.0 620.0 L1520.0 619.5Z" fill="#fbf6fa"/>
<path d="M1551.0 616.0 L1555.0 611.5 L1563.0 611.0 L1568.5 616.0Z" fill="#8c1458"/>
<path d="M1594.0 616.5 L1598.0 610.5 L1603.0 610.0 L1606.0 617.0Z" fill="#8c1458"/>
<path d="M1631.0 618.0 L1634.0 609.0 L1643.0 607.5 L1650.0 611.0 L1655.0 610.0 L1659.0 619.5 L1645.0 620.0Z" fill="#8c1458"/>
<path d="M1778.2 398.9 L1784.3 388.6 L1790.5 388.6 L1793.6 394.8 L1799.8 394.8 L1800.8 402.0 L1797.7 406.6 L1794.6 398.9 L1786.4 397.9Z" fill="#8a3888"/>
</g>
<g fill="#8a48a8" fill-opacity="0.5"><circle cx="1596.4" cy="510.5" r="1.5"/><circle cx="1598.6" cy="497.6" r="1.3"/><circle cx="1553.2" cy="498.6" r="1.3"/><circle cx="1651.5" cy="394.7" r="1.1"/><circle cx="1538.0" cy="572.7" r="1.3"/><circle cx="1530.1" cy="615.6" r="1.5"/><circle cx="1629.0" cy="524.4" r="1.0"/><circle cx="1525.7" cy="502.7" r="0.9"/><circle cx="1554.1" cy="431.5" r="0.9"/><circle cx="1598.3" cy="480.9" r="1.4"/><circle cx="1607.2" cy="530.5" r="1.2"/><circle cx="1630.4" cy="485.0" r="1.1"/><circle cx="1659.2" cy="547.3" r="1.1"/><circle cx="1560.4" cy="443.2" r="0.9"/><circle cx="1647.2" cy="470.9" r="1.4"/><circle cx="1585.8" cy="609.6" r="1.4"/><circle cx="1523.4" cy="423.5" r="1.4"/><circle cx="1599.3" cy="615.1" r="1.1"/><circle cx="1535.1" cy="527.8" r="1.4"/><circle cx="1566.9" cy="393.0" r="1.1"/><circle cx="1679.2" cy="559.8" r="1.0"/><circle cx="1563.1" cy="396.4" r="0.9"/><circle cx="1652.2" cy="415.5" r="1.2"/><circle cx="1595.6" cy="418.7" r="1.3"/><circle cx="1544.5" cy="531.4" r="1.0"/><circle cx="1591.3" cy="424.2" r="1.1"/><circle cx="1680.3" cy="571.1" r="1.1"/><circle cx="1587.1" cy="583.8" r="1.3"/><circle cx="1557.8" cy="435.5" r="1.4"/><circle cx="1576.5" cy="445.0" r="0.9"/><circle cx="1537.9" cy="516.2" r="1.0"/><circle cx="1620.5" cy="463.7" r="1.2"/><circle cx="1616.2" cy="586.8" r="1.0"/><circle cx="1548.2" cy="597.2" r="1.4"/><circle cx="1563.6" cy="418.5" r="1.3"/><circle cx="1676.9" cy="590.7" r="1.3"/><circle cx="1591.4" cy="397.1" r="0.9"/><circle cx="1637.2" cy="435.2" r="1.4"/><circle cx="1619.7" cy="444.3" r="1.0"/><circle cx="1639.8" cy="388.4" r="1.0"/><circle cx="1613.7" cy="583.3" r="1.3"/><circle cx="1568.6" cy="599.4" r="1.0"/><circle cx="1526.0" cy="438.2" r="1.2"/><circle cx="1533.1" cy="415.1" r="1.1"/><circle cx="1615.8" cy="404.0" r="1.1"/><circle cx="1667.4" cy="615.1" r="1.3"/><circle cx="1635.1" cy="516.7" r="1.0"/><circle cx="1670.5" cy="545.6" r="1.5"/><circle cx="1526.7" cy="529.5" r="1.2"/><circle cx="1641.4" cy="450.6" r="1.5"/><circle cx="1535.5" cy="507.1" r="1.3"/><circle cx="1668.9" cy="554.6" r="1.3"/><circle cx="1651.6" cy="598.9" r="1.1"/><circle cx="1634.1" cy="595.3" r="1.4"/><circle cx="1590.8" cy="567.9" r="1.4"/><circle cx="1615.9" cy="526.7" r="1.1"/><circle cx="1617.5" cy="522.7" r="0.9"/><circle cx="1665.6" cy="552.4" r="1.1"/><circle cx="1642.2" cy="515.8" r="1.2"/><circle cx="1620.5" cy="490.9" r="1.0"/><circle cx="1636.2" cy="495.0" r="1.3"/><circle cx="1525.1" cy="446.2" r="1.3"/><circle cx="1556.1" cy="413.5" r="1.4"/><circle cx="1630.0" cy="481.2" r="1.4"/><circle cx="1576.2" cy="536.9" r="1.0"/><circle cx="1593.0" cy="571.7" r="1.4"/><circle cx="1665.6" cy="466.9" r="1.2"/><circle cx="1574.5" cy="405.2" r="1.2"/><circle cx="1658.7" cy="582.4" r="1.3"/><circle cx="1550.6" cy="483.4" r="1.1"/><circle cx="1557.9" cy="474.3" r="1.3"/><circle cx="1603.2" cy="449.7" r="1.4"/><circle cx="1637.9" cy="513.2" r="1.1"/><circle cx="1545.3" cy="484.4" r="0.9"/><circle cx="1657.5" cy="430.3" r="1.0"/><circle cx="1530.9" cy="527.8" r="1.2"/><circle cx="1625.2" cy="534.2" r="1.4"/><circle cx="1678.3" cy="541.5" r="1.0"/><circle cx="1600.1" cy="415.7" r="0.9"/><circle cx="1599.7" cy="548.9" r="1.0"/><circle cx="1567.3" cy="457.3" r="1.3"/><circle cx="1607.5" cy="524.1" r="1.4"/><circle cx="1586.9" cy="568.3" r="1.4"/><circle cx="1537.4" cy="603.2" r="1.3"/><circle cx="1544.3" cy="484.1" r="1.3"/><circle cx="1670.4" cy="465.0" r="1.2"/><circle cx="1665.5" cy="569.5" r="1.5"/><circle cx="1598.3" cy="533.3" r="1.0"/><circle cx="1640.0" cy="574.8" r="1.3"/><circle cx="1639.3" cy="424.3" r="1.4"/><circle cx="1610.1" cy="568.0" r="1.1"/><circle cx="1670.4" cy="584.1" r="1.1"/><circle cx="1536.7" cy="481.0" r="1.2"/><circle cx="1647.5" cy="492.5" r="0.9"/><circle cx="1652.6" cy="414.3" r="1.1"/><circle cx="1650.7" cy="406.2" r="1.0"/><circle cx="1606.8" cy="551.3" r="1.4"/><circle cx="1634.8" cy="606.5" r="1.2"/><circle cx="1559.1" cy="502.3" r="1.1"/><circle cx="1641.2" cy="530.2" r="1.2"/><circle cx="1659.7" cy="510.6" r="1.1"/><circle cx="1584.9" cy="581.5" r="1.4"/><circle cx="1557.0" cy="582.9" r="1.5"/><circle cx="1608.1" cy="513.8" r="1.0"/><circle cx="1610.0" cy="496.4" r="1.3"/><circle cx="1527.8" cy="612.4" r="1.2"/><circle cx="1588.1" cy="570.5" r="1.2"/><circle cx="1602.7" cy="543.1" r="0.9"/><circle cx="1610.4" cy="474.2" r="1.5"/><circle cx="1599.8" cy="402.9" r="1.2"/><circle cx="1655.2" cy="595.3" r="1.2"/><circle cx="1574.6" cy="418.9" r="1.3"/><circle cx="1554.7" cy="427.8" r="1.3"/><circle cx="1575.4" cy="459.7" r="1.3"/><circle cx="1540.3" cy="553.1" r="1.0"/><circle cx="1605.8" cy="433.6" r="1.0"/><circle cx="1609.1" cy="479.9" r="1.1"/><circle cx="1590.1" cy="502.9" r="1.0"/><circle cx="1556.3" cy="528.3" r="1.3"/><circle cx="1608.9" cy="583.0" r="1.3"/><circle cx="1661.8" cy="429.2" r="1.3"/><circle cx="1654.4" cy="595.8" r="1.1"/><circle cx="1574.2" cy="600.8" r="1.0"/><circle cx="1545.0" cy="430.8" r="1.3"/><circle cx="1565.3" cy="395.4" r="1.4"/><circle cx="1591.5" cy="567.8" r="1.0"/><circle cx="1588.4" cy="541.7" r="0.9"/><circle cx="1555.8" cy="541.0" r="1.4"/><circle cx="1605.1" cy="559.9" r="1.2"/><circle cx="1634.2" cy="418.3" r="0.9"/><circle cx="1612.5" cy="499.3" r="1.2"/><circle cx="1547.0" cy="417.2" r="1.0"/><circle cx="1533.3" cy="607.9" r="1.2"/><circle cx="1647.0" cy="452.6" r="1.2"/><circle cx="1606.6" cy="478.3" r="1.3"/><circle cx="1525.4" cy="545.6" r="1.4"/><circle cx="1552.6" cy="484.2" r="1.3"/><circle cx="1588.8" cy="419.8" r="1.0"/><circle cx="1667.7" cy="570.7" r="1.3"/><circle cx="1662.5" cy="527.8" r="1.1"/><circle cx="1620.3" cy="496.7" r="1.5"/><circle cx="1653.4" cy="435.5" r="1.4"/><circle cx="1643.7" cy="564.8" r="1.4"/><circle cx="1588.9" cy="594.3" r="1.4"/><circle cx="1635.6" cy="562.1" r="1.4"/><circle cx="1588.9" cy="551.0" r="0.9"/><circle cx="1578.6" cy="487.9" r="0.9"/><circle cx="1580.8" cy="530.1" r="1.3"/><circle cx="1560.8" cy="606.2" r="1.3"/><circle cx="1577.9" cy="535.4" r="1.2"/><circle cx="1609.5" cy="468.2" r="1.5"/><circle cx="1627.2" cy="545.7" r="1.4"/><circle cx="1622.8" cy="555.0" r="1.1"/><circle cx="1554.9" cy="464.7" r="1.0"/><circle cx="1563.9" cy="596.5" r="1.2"/><circle cx="1605.4" cy="611.8" r="1.2"/><circle cx="1619.9" cy="560.1" r="0.9"/><circle cx="1599.6" cy="413.4" r="1.2"/><circle cx="1622.1" cy="385.9" r="1.5"/><circle cx="1591.3" cy="502.3" r="1.3"/><circle cx="1582.4" cy="442.4" r="1.3"/><circle cx="1614.0" cy="441.8" r="1.3"/><circle cx="1548.6" cy="559.0" r="1.1"/><circle cx="1668.4" cy="557.4" r="0.9"/><circle cx="1535.2" cy="596.5" r="1.2"/><circle cx="1600.5" cy="613.3" r="1.0"/><circle cx="1607.9" cy="604.4" r="1.3"/><circle cx="1599.0" cy="614.7" r="1.4"/><circle cx="1620.9" cy="399.9" r="1.3"/><circle cx="1597.0" cy="421.9" r="0.9"/><circle cx="1608.7" cy="402.2" r="1.2"/><circle cx="1631.3" cy="484.6" r="1.1"/><circle cx="1617.4" cy="475.6" r="1.4"/><circle cx="1677.3" cy="553.9" r="1.0"/><circle cx="1541.7" cy="593.3" r="1.4"/><circle cx="1624.4" cy="460.6" r="1.1"/><circle cx="1634.1" cy="511.8" r="1.3"/><circle cx="1625.7" cy="558.7" r="1.0"/><circle cx="1563.6" cy="615.0" r="1.4"/><circle cx="1533.1" cy="438.7" r="1.2"/><circle cx="1624.1" cy="396.8" r="1.2"/><circle cx="1535.0" cy="392.8" r="1.3"/><circle cx="1612.3" cy="528.3" r="1.1"/><circle cx="1600.7" cy="423.7" r="1.1"/><circle cx="1643.7" cy="579.8" r="0.9"/><circle cx="1542.7" cy="572.5" r="1.3"/><circle cx="1647.6" cy="424.3" r="1.2"/><circle cx="1565.0" cy="572.7" r="1.1"/><circle cx="1575.9" cy="507.7" r="1.3"/><circle cx="1672.2" cy="477.7" r="1.1"/><circle cx="1539.0" cy="589.0" r="0.9"/><circle cx="1536.7" cy="511.6" r="1.2"/><circle cx="1634.1" cy="445.6" r="1.4"/><circle cx="1535.6" cy="424.3" r="1.3"/><circle cx="1536.5" cy="446.9" r="1.3"/><circle cx="1635.5" cy="441.7" r="1.0"/><circle cx="1581.2" cy="551.9" r="1.1"/><circle cx="1542.3" cy="547.7" r="1.2"/><circle cx="1671.8" cy="605.1" r="1.4"/><circle cx="1594.1" cy="571.0" r="1.1"/><circle cx="1574.7" cy="470.7" r="1.5"/><circle cx="1581.8" cy="462.2" r="1.1"/><circle cx="1587.3" cy="467.7" r="1.0"/><circle cx="1614.5" cy="569.5" r="1.2"/><circle cx="1658.5" cy="511.3" r="1.0"/><circle cx="1646.0" cy="590.4" r="1.1"/><circle cx="1526.9" cy="499.5" r="1.2"/><circle cx="1615.1" cy="611.6" r="1.3"/><circle cx="1611.7" cy="567.3" r="1.0"/><circle cx="1536.5" cy="554.6" r="1.4"/><circle cx="1537.0" cy="529.0" r="1.0"/><circle cx="1643.9" cy="532.7" r="1.0"/><circle cx="1558.9" cy="561.6" r="1.2"/><circle cx="1647.0" cy="469.4" r="1.1"/><circle cx="1603.1" cy="504.9" r="1.3"/><circle cx="1637.8" cy="598.9" r="1.1"/><circle cx="1656.9" cy="537.1" r="1.4"/><circle cx="1653.6" cy="578.7" r="1.4"/><circle cx="1608.0" cy="547.9" r="1.4"/><circle cx="1591.5" cy="475.9" r="1.0"/><circle cx="1584.0" cy="413.0" r="1.0"/><circle cx="1592.0" cy="443.9" r="1.5"/><circle cx="1532.9" cy="448.0" r="1.0"/><circle cx="1628.1" cy="564.3" r="1.0"/><circle cx="1533.4" cy="485.4" r="1.3"/><circle cx="1540.9" cy="417.2" r="1.0"/><circle cx="1561.4" cy="549.7" r="1.3"/><circle cx="1559.5" cy="417.3" r="1.1"/><circle cx="1551.2" cy="559.7" r="1.1"/><circle cx="1611.9" cy="574.5" r="1.2"/><circle cx="1565.4" cy="592.0" r="1.4"/><circle cx="1578.6" cy="507.4" r="1.5"/><circle cx="1601.3" cy="426.3" r="0.9"/><circle cx="1676.5" cy="570.6" r="1.1"/><circle cx="1608.6" cy="499.6" r="1.1"/><circle cx="1599.7" cy="463.7" r="1.4"/><circle cx="1638.6" cy="522.0" r="1.0"/><circle cx="1548.7" cy="451.3" r="1.1"/><circle cx="1663.9" cy="499.7" r="1.3"/><circle cx="1609.7" cy="408.8" r="1.4"/><circle cx="1523.5" cy="575.6" r="1.4"/><circle cx="1566.9" cy="549.5" r="1.0"/><circle cx="1600.9" cy="487.9" r="1.5"/><circle cx="1618.2" cy="584.5" r="1.1"/><circle cx="1650.9" cy="475.0" r="1.5"/><circle cx="1538.0" cy="576.8" r="1.0"/><circle cx="1611.2" cy="502.0" r="1.0"/><circle cx="1657.8" cy="448.7" r="1.1"/><circle cx="1535.6" cy="447.3" r="1.2"/><circle cx="1638.9" cy="460.8" r="1.3"/><circle cx="1540.4" cy="469.3" r="1.2"/><circle cx="1679.6" cy="577.7" r="1.3"/><circle cx="1525.3" cy="465.1" r="1.3"/><circle cx="1561.7" cy="511.6" r="1.2"/><circle cx="1652.6" cy="422.7" r="1.3"/><circle cx="1570.3" cy="464.8" r="1.2"/><circle cx="1571.5" cy="455.2" r="1.1"/><circle cx="1631.1" cy="435.1" r="1.0"/><circle cx="1641.6" cy="453.2" r="1.5"/><circle cx="1614.3" cy="551.3" r="1.1"/></g>
<g fill="#9858a8" fill-opacity="0.55"><circle cx="1721.3" cy="566.8" r="0.6"/><circle cx="1713.9" cy="573.3" r="0.7"/><circle cx="1701.7" cy="607.9" r="0.8"/><circle cx="1720.9" cy="588.6" r="0.6"/><circle cx="1694.8" cy="611.8" r="0.9"/><circle cx="1690.5" cy="585.3" r="0.8"/><circle cx="1701.6" cy="618.4" r="0.8"/><circle cx="1707.9" cy="571.7" r="0.8"/><circle cx="1691.9" cy="597.0" r="0.6"/><circle cx="1702.0" cy="612.9" r="0.8"/><circle cx="1682.2" cy="629.9" r="0.8"/><circle cx="1685.2" cy="602.7" r="0.8"/><circle cx="1690.4" cy="628.8" r="0.6"/><circle cx="1730.4" cy="570.0" r="0.9"/><circle cx="1703.7" cy="601.5" r="0.7"/><circle cx="1686.4" cy="627.3" r="0.9"/><circle cx="1687.9" cy="626.4" r="0.6"/><circle cx="1705.6" cy="621.5" r="0.6"/><circle cx="1710.8" cy="582.8" r="0.8"/><circle cx="1715.7" cy="588.2" r="0.7"/><circle cx="1705.3" cy="572.9" r="0.7"/><circle cx="1686.3" cy="602.0" r="0.6"/><circle cx="1711.6" cy="570.7" r="0.9"/><circle cx="1707.2" cy="594.8" r="0.7"/><circle cx="1708.7" cy="611.0" r="0.8"/><circle cx="1716.6" cy="595.9" r="0.9"/><circle cx="1695.4" cy="592.1" r="0.7"/><circle cx="1702.6" cy="592.0" r="0.9"/><circle cx="1716.6" cy="582.6" r="0.7"/><circle cx="1697.7" cy="597.2" r="0.7"/><circle cx="1702.6" cy="577.7" r="0.6"/><circle cx="1674.2" cy="627.4" r="0.9"/><circle cx="1696.1" cy="619.6" r="0.6"/><circle cx="1726.0" cy="567.3" r="0.8"/><circle cx="1694.6" cy="586.4" r="0.7"/><circle cx="1725.7" cy="582.8" r="0.7"/><circle cx="1688.3" cy="628.3" r="0.9"/><circle cx="1682.1" cy="622.0" r="0.6"/><circle cx="1682.5" cy="606.8" r="0.6"/><circle cx="1689.4" cy="626.6" r="0.8"/><circle cx="1714.2" cy="570.0" r="0.8"/><circle cx="1689.0" cy="612.6" r="0.6"/><circle cx="1693.1" cy="609.0" r="0.9"/><circle cx="1706.6" cy="576.9" r="0.6"/><circle cx="1687.2" cy="607.4" r="0.5"/><circle cx="1702.8" cy="599.3" r="0.5"/><circle cx="1707.2" cy="581.1" r="0.6"/><circle cx="1687.7" cy="615.9" r="0.6"/><circle cx="1687.3" cy="600.6" r="0.6"/><circle cx="1716.5" cy="588.5" r="0.9"/><circle cx="1704.5" cy="607.7" r="0.6"/><circle cx="1702.0" cy="597.4" r="0.8"/><circle cx="1712.4" cy="598.5" r="0.9"/><circle cx="1680.8" cy="617.7" r="0.6"/><circle cx="1707.7" cy="577.4" r="0.7"/><circle cx="1719.1" cy="577.5" r="0.7"/><circle cx="1683.7" cy="602.9" r="0.7"/><circle cx="1714.3" cy="602.4" r="0.8"/><circle cx="1696.9" cy="592.7" r="0.6"/><circle cx="1703.7" cy="618.6" r="0.6"/><circle cx="1708.5" cy="598.9" r="0.6"/><circle cx="1720.9" cy="572.7" r="0.6"/><circle cx="1700.4" cy="616.3" r="0.9"/><circle cx="1684.9" cy="625.9" r="0.6"/><circle cx="1694.4" cy="582.1" r="0.7"/><circle cx="1715.5" cy="577.0" r="0.6"/><circle cx="1704.2" cy="577.9" r="0.7"/><circle cx="1690.9" cy="632.6" r="0.7"/><circle cx="1691.3" cy="611.4" r="0.8"/><circle cx="1706.6" cy="625.6" r="0.7"/></g>
<circle cx="1564.5" cy="449" r="1.8" fill="#d01060"/><circle cx="1555" cy="453" r="1.3" fill="#d01060"/>
</g>
<line x1="1528.9" y1="625.4" x2="1569.0" y2="625.4" stroke="#222" stroke-width="1.2"  shape-rendering="crispEdges"/>
<line x1="1529.2" y1="622.4" x2="1529.2" y2="629.0" stroke="#222" stroke-width="1.2"  shape-rendering="crispEdges"/>
<line x1="1568.7" y1="622.4" x2="1568.7" y2="629.0" stroke="#222" stroke-width="1.2"  shape-rendering="crispEdges"/>
<text x="1549.2" y="623.2" font-size="6.5" font-weight="bold" text-anchor="middle" textLength="28.0" lengthAdjust="spacingAndGlyphs">200 µm</text>
<text x="1527.5" y="469.6" font-size="28.5" textLength="222.5" lengthAdjust="spacingAndGlyphs">Cell seeding (3-D)</text>
<text x="1524.2" y="543.6" font-size="28.5" textLength="151.5" lengthAdjust="spacingAndGlyphs">Cell seeding</text>
<text x="1548.3" y="581.2" font-size="28.5" textLength="110.6" lengthAdjust="spacingAndGlyphs">(surface)</text>
<text x="1542.6" y="665.6" font-size="28.5" textLength="302.3" lengthAdjust="spacingAndGlyphs">H&amp;E  staining; 12 weeks</text>
<path d="M1754.4 463.9L1770.4 502.1M1772.4 483.2L1770.4 502.1L1755.4 490.3" fill="none" stroke="#000" stroke-width="3.3" stroke-linecap="round" stroke-linejoin="miter" stroke-miterlimit="10"/>
<path d="M1648.8 594.6L1678.4 612.3M1668.9 595.8L1678.4 612.3L1659.4 611.7" fill="none" stroke="#000" stroke-width="3.3" stroke-linecap="round" stroke-linejoin="miter" stroke-miterlimit="10"/>
<g>
<path d="M297.7 137.7 L297.7 162 A26 11.7 0 0 0 349.7 162 L349.7 137.7 Z" fill="#e80000" stroke="#f6b0b0" stroke-width="1"/>
<ellipse cx="323.7" cy="137.7" rx="26" ry="11.7" fill="#ee6670" stroke="#f8c8c8" stroke-width="1"/>
<ellipse cx="317.6" cy="131.2" rx="3.3" ry="2.1" fill="#f8e4e0"/>
<ellipse cx="330.2" cy="131.2" rx="3.3" ry="2.1" fill="#f8e4e0"/>
<ellipse cx="310.9" cy="138" rx="3.3" ry="2.1" fill="#f8e4e0"/>
<ellipse cx="324.1" cy="138" rx="3.3" ry="2.1" fill="#f8e4e0"/>
<ellipse cx="337.6" cy="138" rx="3.3" ry="2.1" fill="#f8e4e0"/>
<ellipse cx="317.6" cy="144.7" rx="3.3" ry="2.1" fill="#f8e4e0"/>
<ellipse cx="330.5" cy="144.7" rx="3.3" ry="2.1" fill="#f8e4e0"/>
<circle cx="303.9" cy="152.8" r="3.4" fill="#f4d8d4"/><circle cx="303.9" cy="152.8" r="1.6" fill="#e0c4c8"/>
<circle cx="315" cy="157.3" r="3.4" fill="#f4d8d4"/><circle cx="315" cy="157.3" r="1.6" fill="#e0c4c8"/>
<circle cx="329.2" cy="157.3" r="3.4" fill="#f4d8d4"/><circle cx="329.2" cy="157.3" r="1.6" fill="#e0c4c8"/>
<circle cx="342.7" cy="152.8" r="3.4" fill="#f4d8d4"/><circle cx="342.7" cy="152.8" r="1.6" fill="#e0c4c8"/>
<circle cx="304.4" cy="163.1" r="3.4" fill="#f4d8d4"/><circle cx="304.4" cy="163.1" r="1.6" fill="#e0c4c8"/>
<circle cx="315.7" cy="167.3" r="3.4" fill="#f4d8d4"/><circle cx="315.7" cy="167.3" r="1.6" fill="#e0c4c8"/>
<circle cx="329.3" cy="167" r="3.4" fill="#f4d8d4"/><circle cx="329.3" cy="167" r="1.6" fill="#e0c4c8"/>
<circle cx="342.7" cy="162.1" r="3.4" fill="#f4d8d4"/><circle cx="342.7" cy="162.1" r="1.6" fill="#e0c4c8"/>
</g>
<defs>
<linearGradient id="gside" x1="0" x2="1" y1="0" y2="0"><stop offset="0" stop-color="#fdf0cf"/><stop offset="0.45" stop-color="#fde9b8"/><stop offset="0.8" stop-color="#fdd77a"/><stop offset="1" stop-color="#fcca50"/></linearGradient>
<linearGradient id="gtop" x1="0" x2="1" y1="0" y2="0"><stop offset="0" stop-color="#fef6e4"/><stop offset="0.5" stop-color="#feefcf"/><stop offset="1" stop-color="#fdde8c"/></linearGradient>
</defs>
<path d="M887.7 134.9 L887.7 177.8 A90 21.5 0 0 0 1067.7 177.8 L1067.7 134.9 Z" fill="url(#gside)" stroke="#e8dcc4" stroke-width="1"/>
<ellipse cx="977.7" cy="134.9" rx="90" ry="21.5" fill="url(#gtop)" stroke="#ddd2c0" stroke-width="1"/>
<path d="M952.3 136.5 L952.3 182 A28.4 9 0 0 0 1009 182 L1009 136.5 Z" fill="#fba78a" fill-opacity="0.92"/>
<ellipse cx="980.6" cy="136.5" rx="28.4" ry="9" fill="#e6000c"/>
<ellipse cx="973.9" cy="132.1" rx="3.4" ry="2.3" fill="#fde9e4"/>
<ellipse cx="987.8" cy="132.1" rx="3.4" ry="2.3" fill="#fde9e4"/>
<ellipse cx="966.2" cy="136.5" rx="3.4" ry="2.3" fill="#fde9e4"/>
<ellipse cx="980.1" cy="136.5" rx="3.4" ry="2.3" fill="#fde9e4"/>
<ellipse cx="994.1" cy="136.5" rx="3.4" ry="2.3" fill="#fde9e4"/>
<ellipse cx="973.2" cy="141.4" rx="3.4" ry="2.3" fill="#fde9e4"/>
<ellipse cx="987.1" cy="141.4" rx="3.4" ry="2.3" fill="#fde9e4"/>
<path d="M572.0 149.7L747.4 149.7M729.6 140.6L747.4 149.7L729.6 158.8" fill="none" stroke="#000" stroke-width="3" stroke-linecap="round" stroke-linejoin="miter" stroke-miterlimit="10"/>
<path d="M809.4 328.5L322.2 666.6M340.5 664.0L322.2 666.6L331.1 650.4" fill="none" stroke="#000" stroke-width="3.5" stroke-linecap="round" stroke-linejoin="miter" stroke-miterlimit="10"/>
<path d="M809.4 328.5L823.9 665.9M831.4 649.0L823.9 665.9L814.9 649.7" fill="none" stroke="#000" stroke-width="3.5" stroke-linecap="round" stroke-linejoin="miter" stroke-miterlimit="10"/>
<path d="M809.4 328.5L1266.5 681.2M1258.5 664.6L1266.5 681.2L1248.4 677.7" fill="none" stroke="#000" stroke-width="3.5" stroke-linecap="round" stroke-linejoin="miter" stroke-miterlimit="10"/>
<path d="M1255.0 297.0L1504.2 224.1M1486.0 220.8L1504.2 224.1L1490.6 236.6" fill="none" stroke="#000" stroke-width="3.5" stroke-linecap="round" stroke-linejoin="miter" stroke-miterlimit="10"/>
<path d="M1255.0 297.0L1504.4 487.6M1496.3 471.0L1504.4 487.6L1486.3 484.2" fill="none" stroke="#000" stroke-width="3.5" stroke-linecap="round" stroke-linejoin="miter" stroke-miterlimit="10"/>
<defs>
<pattern id="hR" width="4" height="4" patternUnits="userSpaceOnUse"><rect width="4" height="4" fill="#ff0000"/><path d="M-1 1L1 -1M0 4L4 0M3 5L5 3" stroke="#200000" stroke-width="1.3"/></pattern>
<pattern id="dR" width="2" height="2" patternUnits="userSpaceOnUse"><rect width="2" height="2" fill="#e00000"/><rect width="1" height="1" fill="#300000"/><rect x="1" y="1" width="1" height="1" fill="#300000"/></pattern>
<pattern id="hB" width="4" height="4" patternUnits="userSpaceOnUse"><rect width="4" height="4" fill="#0000ff"/><path d="M-1 1L1 -1M0 4L4 0M3 5L5 3" stroke="#000020" stroke-width="1.3"/></pattern>
<pattern id="dB" width="2" height="2" patternUnits="userSpaceOnUse"><rect width="2" height="2" fill="#0000e0"/><rect width="1" height="1" fill="#000030"/><rect x="1" y="1" width="1" height="1" fill="#000030"/></pattern>
</defs>
<rect x="108.1" y="646.8" width="131.7" height="49.7" fill="#fff" stroke="#555" stroke-width="1" />
<rect x="117.4" y="659.3" width="31.7" height="8.7" fill="#ff0000" stroke="#333" stroke-width="0.8" />
<rect x="117.4" y="675.3" width="31.7" height="8.8" fill="#0000ff" stroke="#333" stroke-width="0.8" />
<text x="156.9" y="668.0" font-size="13.5" textLength="51.0" lengthAdjust="spacingAndGlyphs">cell-free</text>
<text x="156.9" y="684.1" font-size="13.5" textLength="70.5" lengthAdjust="spacingAndGlyphs">cell-loaded</text>
<line x1="178.8" y1="713.1" x2="178.8" y2="738.5" stroke="#555" stroke-width="1"  shape-rendering="crispEdges"/>
<line x1="174.5" y1="713.1" x2="183.2" y2="713.1" stroke="#555" stroke-width="1"  shape-rendering="crispEdges"/>
<rect x="168.0" y="738.5" width="21.7" height="228.6" fill="#0000ff" stroke="#10102a" stroke-width="0.9" />
<line x1="227.5" y1="899.0" x2="227.5" y2="924.4" stroke="#555" stroke-width="1"  shape-rendering="crispEdges"/>
<line x1="223.2" y1="899.0" x2="231.8" y2="899.0" stroke="#555" stroke-width="1"  shape-rendering="crispEdges"/>
<rect x="216.6" y="924.4" width="21.7" height="42.7" fill="#ff0000" stroke="#2a1010" stroke-width="0.9" />
<line x1="249.2" y1="763.9" x2="249.2" y2="781.2" stroke="#555" stroke-width="1"  shape-rendering="crispEdges"/>
<line x1="244.8" y1="763.9" x2="253.5" y2="763.9" stroke="#555" stroke-width="1"  shape-rendering="crispEdges"/>
<rect x="238.3" y="781.2" width="21.7" height="185.9" fill="#0000ff" stroke="#10102a" stroke-width="0.9" />
<line x1="298.5" y1="859.4" x2="298.5" y2="908.2" stroke="#555" stroke-width="1"  shape-rendering="crispEdges"/>
<line x1="294.2" y1="859.4" x2="302.8" y2="859.4" stroke="#555" stroke-width="1"  shape-rendering="crispEdges"/>
<rect x="287.7" y="908.2" width="21.7" height="58.9" fill="#ff0000" stroke="#2a1010" stroke-width="0.9" />
<line x1="320.2" y1="710.1" x2="320.2" y2="746.6" stroke="#555" stroke-width="1"  shape-rendering="crispEdges"/>
<line x1="315.9" y1="710.1" x2="324.6" y2="710.1" stroke="#555" stroke-width="1"  shape-rendering="crispEdges"/>
<rect x="309.4" y="746.6" width="21.7" height="220.5" fill="#0000ff" stroke="#10102a" stroke-width="0.9" />
<line x1="368.8" y1="839.1" x2="368.8" y2="873.6" stroke="#555" stroke-width="1"  shape-rendering="crispEdges"/>
<line x1="364.4" y1="839.1" x2="373.1" y2="839.1" stroke="#555" stroke-width="1"  shape-rendering="crispEdges"/>
<rect x="357.9" y="873.6" width="21.7" height="93.5" fill="#ff0000" stroke="#2a1010" stroke-width="0.9" />
<line x1="390.5" y1="774.1" x2="390.5" y2="814.7" stroke="#555" stroke-width="1"  shape-rendering="crispEdges"/>
<line x1="386.2" y1="774.1" x2="394.8" y2="774.1" stroke="#555" stroke-width="1"  shape-rendering="crispEdges"/>
<rect x="379.6" y="814.7" width="21.7" height="152.4" fill="#0000ff" stroke="#10102a" stroke-width="0.9" />
<line x1="439.2" y1="818.8" x2="439.2" y2="848.2" stroke="#555" stroke-width="1"  shape-rendering="crispEdges"/>
<line x1="434.9" y1="818.8" x2="443.6" y2="818.8" stroke="#555" stroke-width="1"  shape-rendering="crispEdges"/>
<rect x="428.4" y="848.2" width="21.7" height="118.9" fill="#ff0000" stroke="#2a1010" stroke-width="0.9" />
<line x1="461.0" y1="709.0" x2="461.0" y2="738.5" stroke="#555" stroke-width="1"  shape-rendering="crispEdges"/>
<line x1="456.7" y1="709.0" x2="465.3" y2="709.0" stroke="#555" stroke-width="1"  shape-rendering="crispEdges"/>
<rect x="450.1" y="738.5" width="21.7" height="228.6" fill="#0000ff" stroke="#10102a" stroke-width="0.9" />
<line x1="97.5" y1="662.4" x2="97.5" y2="967.6" stroke="#3c3c3c" stroke-width="1"  shape-rendering="crispEdges"/>
<line x1="93.9" y1="967.1" x2="522.0" y2="967.1" stroke="#3c3c3c" stroke-width="1"  shape-rendering="crispEdges"/>
<line x1="93.4" y1="967.1" x2="97.9" y2="967.1" stroke="#3c3c3c" stroke-width="1"  shape-rendering="crispEdges"/>
<text x="83.5" y="972.9" font-size="16.5" text-anchor="end" textLength="26.4" lengthAdjust="spacingAndGlyphs">0.0</text>
<line x1="93.4" y1="916.3" x2="97.9" y2="916.3" stroke="#3c3c3c" stroke-width="1"  shape-rendering="crispEdges"/>
<text x="83.5" y="922.1" font-size="16.5" text-anchor="end" textLength="26.4" lengthAdjust="spacingAndGlyphs">0.5</text>
<line x1="93.4" y1="865.5" x2="97.9" y2="865.5" stroke="#3c3c3c" stroke-width="1"  shape-rendering="crispEdges"/>
<text x="83.5" y="871.3" font-size="16.5" text-anchor="end" textLength="26.4" lengthAdjust="spacingAndGlyphs">1.0</text>
<line x1="93.4" y1="814.7" x2="97.9" y2="814.7" stroke="#3c3c3c" stroke-width="1"  shape-rendering="crispEdges"/>
<text x="83.5" y="820.5" font-size="16.5" text-anchor="end" textLength="26.4" lengthAdjust="spacingAndGlyphs">1.5</text>
<line x1="93.4" y1="763.9" x2="97.9" y2="763.9" stroke="#3c3c3c" stroke-width="1"  shape-rendering="crispEdges"/>
<text x="83.5" y="769.7" font-size="16.5" text-anchor="end" textLength="26.4" lengthAdjust="spacingAndGlyphs">2.0</text>
<line x1="93.4" y1="713.1" x2="97.9" y2="713.1" stroke="#3c3c3c" stroke-width="1"  shape-rendering="crispEdges"/>
<text x="83.5" y="718.9" font-size="16.5" text-anchor="end" textLength="26.4" lengthAdjust="spacingAndGlyphs">2.5</text>
<line x1="93.4" y1="662.3" x2="97.9" y2="662.3" stroke="#3c3c3c" stroke-width="1"  shape-rendering="crispEdges"/>
<text x="83.5" y="668.1" font-size="16.5" text-anchor="end" textLength="26.4" lengthAdjust="spacingAndGlyphs">3.0</text>
<line x1="168.0" y1="967.1" x2="168.0" y2="971.6" stroke="#3c3c3c" stroke-width="1"  shape-rendering="crispEdges"/>
<text x="165.0" y="997.3" font-size="16.5" text-anchor="middle" textLength="10.6" lengthAdjust="spacingAndGlyphs">0</text>
<line x1="238.3" y1="967.1" x2="238.3" y2="971.6" stroke="#3c3c3c" stroke-width="1"  shape-rendering="crispEdges"/>
<text x="235.3" y="997.3" font-size="16.5" text-anchor="middle" textLength="10.6" lengthAdjust="spacingAndGlyphs">2</text>
<line x1="309.4" y1="967.1" x2="309.4" y2="971.6" stroke="#3c3c3c" stroke-width="1"  shape-rendering="crispEdges"/>
<text x="306.4" y="997.3" font-size="16.5" text-anchor="middle" textLength="10.6" lengthAdjust="spacingAndGlyphs">4</text>
<line x1="379.6" y1="967.1" x2="379.6" y2="971.6" stroke="#3c3c3c" stroke-width="1"  shape-rendering="crispEdges"/>
<text x="376.6" y="997.3" font-size="16.5" text-anchor="middle" textLength="10.6" lengthAdjust="spacingAndGlyphs">8</text>
<line x1="450.1" y1="967.1" x2="450.1" y2="971.6" stroke="#3c3c3c" stroke-width="1"  shape-rendering="crispEdges"/>
<text x="447.1" y="997.3" font-size="16.5" text-anchor="middle" textLength="21.1" lengthAdjust="spacingAndGlyphs">12</text>
<text x="309.3" y="1032.4" font-size="20" font-weight="bold" text-anchor="middle" textLength="128.8" lengthAdjust="spacingAndGlyphs">time (weeks)</text>
<text x="0.0" y="0.0" font-size="20.5" font-weight="bold" text-anchor="middle" textLength="272.0" lengthAdjust="spacingAndGlyphs" transform="translate(41.5 814.5) rotate(-90)">3-dimensional cell seeding</text>
<text x="180.2" y="761.5" font-size="24.5" font-weight="bold" text-anchor="middle" fill="#fff">§</text>
<text x="249.6" y="803.4" font-size="24.5" font-weight="bold" text-anchor="middle" fill="#fff">§</text>
<text x="367.5" y="828.0" font-size="21" font-weight="bold" text-anchor="middle">*</text>
<text x="438.0" y="805.5" font-size="21" font-weight="bold" text-anchor="middle">*</text>
<line x1="688.1" y1="777.9" x2="688.1" y2="797.3" stroke="#555" stroke-width="1"  shape-rendering="crispEdges"/>
<line x1="684.1" y1="777.9" x2="692.1" y2="777.9" stroke="#555" stroke-width="1"  shape-rendering="crispEdges"/>
<rect x="676.0" y="797.3" width="24.3" height="174.2" fill="#ff0000" stroke="#2a1010" stroke-width="0.9" />
<line x1="712.4" y1="869.9" x2="712.4" y2="879.5" stroke="#555" stroke-width="1"  shape-rendering="crispEdges"/>
<line x1="708.4" y1="869.9" x2="716.4" y2="869.9" stroke="#555" stroke-width="1"  shape-rendering="crispEdges"/>
<rect x="700.3" y="879.5" width="24.3" height="92.0" fill="#0000ff" stroke="#10102a" stroke-width="0.9" />
<line x1="768.5" y1="768.2" x2="768.5" y2="792.4" stroke="#555" stroke-width="1"  shape-rendering="crispEdges"/>
<line x1="764.5" y1="768.2" x2="772.5" y2="768.2" stroke="#555" stroke-width="1"  shape-rendering="crispEdges"/>
<rect x="756.3" y="792.4" width="24.3" height="179.1" fill="#ff0000" stroke="#2a1010" stroke-width="0.9" />
<line x1="792.8" y1="860.2" x2="792.8" y2="874.7" stroke="#555" stroke-width="1"  shape-rendering="crispEdges"/>
<line x1="788.8" y1="860.2" x2="796.8" y2="860.2" stroke="#555" stroke-width="1"  shape-rendering="crispEdges"/>
<rect x="780.6" y="874.7" width="24.3" height="96.8" fill="#0000ff" stroke="#10102a" stroke-width="0.9" />
<line x1="849.4" y1="763.4" x2="849.4" y2="811.8" stroke="#555" stroke-width="1"  shape-rendering="crispEdges"/>
<line x1="845.4" y1="763.4" x2="853.4" y2="763.4" stroke="#555" stroke-width="1"  shape-rendering="crispEdges"/>
<rect x="837.2" y="811.8" width="24.3" height="159.7" fill="#ff0000" stroke="#2a1010" stroke-width="0.9" />
<line x1="873.6" y1="768.2" x2="873.6" y2="787.6" stroke="#555" stroke-width="1"  shape-rendering="crispEdges"/>
<line x1="869.6" y1="768.2" x2="877.6" y2="768.2" stroke="#555" stroke-width="1"  shape-rendering="crispEdges"/>
<rect x="861.5" y="787.6" width="24.3" height="183.9" fill="#0000ff" stroke="#10102a" stroke-width="0.9" />
<line x1="931.1" y1="739.2" x2="931.1" y2="773.1" stroke="#555" stroke-width="1"  shape-rendering="crispEdges"/>
<line x1="927.1" y1="739.2" x2="935.1" y2="739.2" stroke="#555" stroke-width="1"  shape-rendering="crispEdges"/>
<rect x="919.0" y="773.1" width="24.3" height="198.4" fill="#ff0000" stroke="#2a1010" stroke-width="0.9" />
<line x1="955.4" y1="811.8" x2="955.4" y2="836.0" stroke="#555" stroke-width="1"  shape-rendering="crispEdges"/>
<line x1="951.4" y1="811.8" x2="959.4" y2="811.8" stroke="#555" stroke-width="1"  shape-rendering="crispEdges"/>
<rect x="943.3" y="836.0" width="24.3" height="135.5" fill="#0000ff" stroke="#10102a" stroke-width="0.9" />
<line x1="619.5" y1="681.2" x2="619.5" y2="972.0" stroke="#3c3c3c" stroke-width="1"  shape-rendering="crispEdges"/>
<line x1="615.4" y1="971.5" x2="1023.6" y2="971.5" stroke="#888" stroke-width="1"  shape-rendering="crispEdges"/>
<line x1="614.9" y1="971.5" x2="619.4" y2="971.5" stroke="#3c3c3c" stroke-width="1"  shape-rendering="crispEdges"/>
<text x="606.5" y="977.8" font-size="16.5" text-anchor="end" textLength="36.0" lengthAdjust="spacingAndGlyphs">0.00</text>
<line x1="614.9" y1="923.1" x2="619.4" y2="923.1" stroke="#3c3c3c" stroke-width="1"  shape-rendering="crispEdges"/>
<text x="606.5" y="929.4" font-size="16.5" text-anchor="end" textLength="36.0" lengthAdjust="spacingAndGlyphs">0.01</text>
<line x1="614.9" y1="874.7" x2="619.4" y2="874.7" stroke="#3c3c3c" stroke-width="1"  shape-rendering="crispEdges"/>
<text x="606.5" y="881.0" font-size="16.5" text-anchor="end" textLength="36.0" lengthAdjust="spacingAndGlyphs">0.02</text>
<line x1="614.9" y1="826.3" x2="619.4" y2="826.3" stroke="#3c3c3c" stroke-width="1"  shape-rendering="crispEdges"/>
<text x="606.5" y="832.6" font-size="16.5" text-anchor="end" textLength="36.0" lengthAdjust="spacingAndGlyphs">0.03</text>
<line x1="614.9" y1="777.9" x2="619.4" y2="777.9" stroke="#3c3c3c" stroke-width="1"  shape-rendering="crispEdges"/>
<text x="606.5" y="784.2" font-size="16.5" text-anchor="end" textLength="36.0" lengthAdjust="spacingAndGlyphs">0.04</text>
<line x1="614.9" y1="729.5" x2="619.4" y2="729.5" stroke="#3c3c3c" stroke-width="1"  shape-rendering="crispEdges"/>
<text x="606.5" y="735.8" font-size="16.5" text-anchor="end" textLength="36.0" lengthAdjust="spacingAndGlyphs">0.05</text>
<line x1="614.9" y1="681.1" x2="619.4" y2="681.1" stroke="#3c3c3c" stroke-width="1"  shape-rendering="crispEdges"/>
<text x="606.5" y="687.4" font-size="16.5" text-anchor="end" textLength="36.0" lengthAdjust="spacingAndGlyphs">0.06</text>
<line x1="700.3" y1="971.5" x2="700.3" y2="976.0" stroke="#666" stroke-width="1"  shape-rendering="crispEdges"/>
<text x="697.3" y="1001.2" font-size="16.5" text-anchor="middle" textLength="10.3" lengthAdjust="spacingAndGlyphs">0</text>
<line x1="780.6" y1="971.5" x2="780.6" y2="976.0" stroke="#666" stroke-width="1"  shape-rendering="crispEdges"/>
<text x="777.6" y="1001.2" font-size="16.5" text-anchor="middle" textLength="10.3" lengthAdjust="spacingAndGlyphs">4</text>
<line x1="861.5" y1="971.5" x2="861.5" y2="976.0" stroke="#666" stroke-width="1"  shape-rendering="crispEdges"/>
<text x="858.5" y="1001.2" font-size="16.5" text-anchor="middle" textLength="10.3" lengthAdjust="spacingAndGlyphs">8</text>
<line x1="943.3" y1="971.5" x2="943.3" y2="976.0" stroke="#666" stroke-width="1"  shape-rendering="crispEdges"/>
<text x="940.3" y="1001.2" font-size="16.5" text-anchor="middle" textLength="20.5" lengthAdjust="spacingAndGlyphs">12</text>
<text x="821.0" y="1035.3" font-size="21.5" font-weight="bold" text-anchor="middle" textLength="136.5" lengthAdjust="spacingAndGlyphs">time (weeks)</text>
<text x="0.0" y="0.0" font-size="24.5" font-weight="bold" text-anchor="middle" textLength="108.5" lengthAdjust="spacingAndGlyphs" transform="translate(556.3 826.3) rotate(-90)">Force in N</text>
<text x="712.3" y="911.5" font-size="26" text-anchor="middle" fill="#fff">§</text>
<text x="793.5" y="911.5" font-size="26" text-anchor="middle" fill="#fff">§</text>
<text x="875.3" y="745.0" font-size="21" font-weight="bold" text-anchor="middle">*</text>
<text x="875.0" y="761.0" font-size="21" text-anchor="middle">+</text>
<rect x="1153.1" y="958.9" width="11.3" height="1.0" fill="#ff0000" stroke="#000" stroke-width="1" />
<rect x="1165.4" y="958.9" width="11.3" height="1.0" fill="url(#hR)" stroke="#000" stroke-width="1" />
<rect x="1177.7" y="958.9" width="11.3" height="1.0" fill="url(#dR)" stroke="#000" stroke-width="1" />
<line x1="1216.5" y1="956.5" x2="1216.5" y2="957.6" stroke="#000" stroke-width="1"  shape-rendering="crispEdges"/>
<line x1="1213.0" y1="956.5" x2="1220.0" y2="956.5" stroke="#000" stroke-width="1"  shape-rendering="crispEdges"/>
<rect x="1210.8" y="958.1" width="11.3" height="1.8" fill="#ff0000" stroke="#000" stroke-width="1" />
<line x1="1241.1" y1="956.5" x2="1241.1" y2="957.6" stroke="#000" stroke-width="1"  shape-rendering="crispEdges"/>
<line x1="1237.6" y1="956.5" x2="1244.6" y2="956.5" stroke="#000" stroke-width="1"  shape-rendering="crispEdges"/>
<rect x="1235.4" y="958.1" width="11.3" height="1.8" fill="url(#dR)" stroke="#000" stroke-width="1" />
<rect x="1268.3" y="958.9" width="11.3" height="1.0" fill="#ff0000" stroke="#000" stroke-width="1" />
<line x1="1286.3" y1="956.5" x2="1286.3" y2="957.6" stroke="#000" stroke-width="1"  shape-rendering="crispEdges"/>
<line x1="1282.8" y1="956.5" x2="1289.8" y2="956.5" stroke="#000" stroke-width="1"  shape-rendering="crispEdges"/>
<rect x="1280.6" y="958.1" width="11.3" height="1.8" fill="url(#hR)" stroke="#000" stroke-width="1" />
<line x1="1298.6" y1="936.9" x2="1298.6" y2="944.5" stroke="#000" stroke-width="1"  shape-rendering="crispEdges"/>
<line x1="1295.1" y1="936.9" x2="1302.1" y2="936.9" stroke="#000" stroke-width="1"  shape-rendering="crispEdges"/>
<rect x="1292.9" y="945.0" width="11.3" height="14.9" fill="url(#dR)" stroke="#000" stroke-width="1" />
<rect x="1337.1" y="955.8" width="11.3" height="4.1" fill="url(#hR)" stroke="#000" stroke-width="1" />
<line x1="1355.1" y1="806.4" x2="1355.1" y2="862.4" stroke="#000" stroke-width="1"  shape-rendering="crispEdges"/>
<line x1="1351.6" y1="806.4" x2="1358.6" y2="806.4" stroke="#000" stroke-width="1"  shape-rendering="crispEdges"/>
<rect x="1349.4" y="862.9" width="11.3" height="97.0" fill="url(#dR)" stroke="#000" stroke-width="1" />
<line x1="1412.6" y1="738.9" x2="1412.6" y2="840.2" stroke="#000" stroke-width="1"  shape-rendering="crispEdges"/>
<line x1="1409.1" y1="738.9" x2="1416.1" y2="738.9" stroke="#000" stroke-width="1"  shape-rendering="crispEdges"/>
<rect x="1406.9" y="840.7" width="11.3" height="119.2" fill="url(#dR)" stroke="#000" stroke-width="1" />
<line x1="1114.1" y1="714.2" x2="1114.1" y2="960.4" stroke="#3c3c3c" stroke-width="1.2"  shape-rendering="crispEdges"/>
<line x1="1110.1" y1="960.4" x2="1452.0" y2="960.4" stroke="#111" stroke-width="1"  shape-rendering="crispEdges"/>
<line x1="1109.6" y1="959.9" x2="1114.1" y2="959.9" stroke="#3c3c3c" stroke-width="1"  shape-rendering="crispEdges"/>
<text x="1103.0" y="965.2" font-size="15" text-anchor="end">0</text>
<line x1="1109.6" y1="929.2" x2="1114.1" y2="929.2" stroke="#3c3c3c" stroke-width="1"  shape-rendering="crispEdges"/>
<text x="1103.0" y="934.5" font-size="15" text-anchor="end">20</text>
<line x1="1109.6" y1="898.5" x2="1114.1" y2="898.5" stroke="#3c3c3c" stroke-width="1"  shape-rendering="crispEdges"/>
<text x="1103.0" y="903.8" font-size="15" text-anchor="end">40</text>
<line x1="1109.6" y1="867.8" x2="1114.1" y2="867.8" stroke="#3c3c3c" stroke-width="1"  shape-rendering="crispEdges"/>
<text x="1103.0" y="873.1" font-size="15" text-anchor="end">60</text>
<line x1="1109.6" y1="837.1" x2="1114.1" y2="837.1" stroke="#3c3c3c" stroke-width="1"  shape-rendering="crispEdges"/>
<text x="1103.0" y="842.4" font-size="15" text-anchor="end">80</text>
<line x1="1109.6" y1="806.4" x2="1114.1" y2="806.4" stroke="#3c3c3c" stroke-width="1"  shape-rendering="crispEdges"/>
<text x="1103.0" y="811.7" font-size="15" text-anchor="end">100</text>
<line x1="1109.6" y1="775.7" x2="1114.1" y2="775.7" stroke="#3c3c3c" stroke-width="1"  shape-rendering="crispEdges"/>
<text x="1103.0" y="781.0" font-size="15" text-anchor="end">120</text>
<line x1="1109.6" y1="745.0" x2="1114.1" y2="745.0" stroke="#3c3c3c" stroke-width="1"  shape-rendering="crispEdges"/>
<text x="1103.0" y="750.3" font-size="15" text-anchor="end">140</text>
<line x1="1109.6" y1="714.3" x2="1114.1" y2="714.3" stroke="#3c3c3c" stroke-width="1"  shape-rendering="crispEdges"/>
<text x="1103.0" y="719.6" font-size="15" text-anchor="end">160</text>
<line x1="1171.1" y1="959.9" x2="1171.1" y2="963.9" stroke="#3c3c3c" stroke-width="1"  shape-rendering="crispEdges"/>
<text x="1168.1" y="984.6" font-size="15" text-anchor="middle">0</text>
<line x1="1228.8" y1="959.9" x2="1228.8" y2="963.9" stroke="#3c3c3c" stroke-width="1"  shape-rendering="crispEdges"/>
<text x="1225.8" y="984.6" font-size="15" text-anchor="middle">2</text>
<line x1="1286.3" y1="959.9" x2="1286.3" y2="963.9" stroke="#3c3c3c" stroke-width="1"  shape-rendering="crispEdges"/>
<text x="1283.3" y="984.6" font-size="15" text-anchor="middle">4</text>
<line x1="1342.8" y1="959.9" x2="1342.8" y2="963.9" stroke="#3c3c3c" stroke-width="1"  shape-rendering="crispEdges"/>
<text x="1339.8" y="984.6" font-size="15" text-anchor="middle">8</text>
<line x1="1400.3" y1="959.9" x2="1400.3" y2="963.9" stroke="#3c3c3c" stroke-width="1"  shape-rendering="crispEdges"/>
<text x="1397.3" y="984.6" font-size="15" text-anchor="middle">12</text>
<text x="1273.3" y="719.6" font-size="18.5" text-anchor="middle" textLength="190.0" lengthAdjust="spacingAndGlyphs">Aggrecan / Collagen 1</text>
<rect x="1532.6" y="947.3" width="10.7" height="16.2" fill="#ff0000" stroke="#000" stroke-width="1" />
<rect x="1544.3" y="947.3" width="10.7" height="16.2" fill="url(#hR)" stroke="#000" stroke-width="1" />
<rect x="1556.0" y="947.3" width="10.7" height="16.2" fill="url(#dR)" stroke="#000" stroke-width="1" />
<rect x="1589.8" y="847.0" width="10.7" height="116.5" fill="#ff0000" stroke="#000" stroke-width="1" />
<line x1="1606.8" y1="945.1" x2="1606.8" y2="954.3" stroke="#000" stroke-width="1"  shape-rendering="crispEdges"/>
<line x1="1603.3" y1="945.1" x2="1610.3" y2="945.1" stroke="#000" stroke-width="1"  shape-rendering="crispEdges"/>
<rect x="1601.5" y="954.8" width="10.7" height="8.7" fill="url(#hR)" stroke="#000" stroke-width="1" />
<line x1="1618.5" y1="947.6" x2="1618.5" y2="950.1" stroke="#000" stroke-width="1"  shape-rendering="crispEdges"/>
<line x1="1615.0" y1="947.6" x2="1622.0" y2="947.6" stroke="#000" stroke-width="1"  shape-rendering="crispEdges"/>
<rect x="1613.2" y="950.6" width="10.7" height="12.9" fill="url(#dR)" stroke="#000" stroke-width="1" />
<line x1="1651.8" y1="934.2" x2="1651.8" y2="949.0" stroke="#000" stroke-width="1"  shape-rendering="crispEdges"/>
<line x1="1648.3" y1="934.2" x2="1655.3" y2="934.2" stroke="#000" stroke-width="1"  shape-rendering="crispEdges"/>
<rect x="1646.5" y="949.5" width="10.7" height="14.0" fill="#ff0000" stroke="#000" stroke-width="1" />
<line x1="1663.5" y1="910.0" x2="1663.5" y2="931.7" stroke="#000" stroke-width="1"  shape-rendering="crispEdges"/>
<line x1="1660.0" y1="910.0" x2="1667.0" y2="910.0" stroke="#000" stroke-width="1"  shape-rendering="crispEdges"/>
<rect x="1658.2" y="932.2" width="10.7" height="31.3" fill="url(#hR)" stroke="#000" stroke-width="1" />
<line x1="1675.2" y1="850.6" x2="1675.2" y2="888.3" stroke="#000" stroke-width="1"  shape-rendering="crispEdges"/>
<line x1="1671.8" y1="850.6" x2="1678.8" y2="850.6" stroke="#000" stroke-width="1"  shape-rendering="crispEdges"/>
<rect x="1669.9" y="888.8" width="10.7" height="74.7" fill="url(#dR)" stroke="#000" stroke-width="1" />
<rect x="1704.2" y="963.0" width="10.7" height="0.6" fill="#ff0000" stroke="#000" stroke-width="1" />
<rect x="1715.9" y="847.0" width="10.7" height="116.5" fill="url(#hR)" stroke="#000" stroke-width="1" />
<rect x="1727.6" y="868.7" width="10.7" height="94.8" fill="url(#dR)" stroke="#000" stroke-width="1" />
<line x1="1791.2" y1="881.6" x2="1791.2" y2="907.5" stroke="#000" stroke-width="1"  shape-rendering="crispEdges"/>
<line x1="1787.7" y1="881.6" x2="1794.7" y2="881.6" stroke="#000" stroke-width="1"  shape-rendering="crispEdges"/>
<rect x="1785.8" y="908.0" width="10.7" height="55.5" fill="url(#dR)" stroke="#000" stroke-width="1" />
<line x1="1595.1" y1="829.9" x2="1595.1" y2="832.0" stroke="#000" stroke-width="1"  shape-rendering="crispEdges"/>
<line x1="1591.6" y1="829.9" x2="1598.6" y2="829.9" stroke="#000" stroke-width="1"  shape-rendering="crispEdges"/>
<rect x="1589.8" y="832.5" width="10.7" height="1.8" fill="#ff0000" stroke="#000" stroke-width="1" />
<rect x="1715.9" y="827.8" width="10.7" height="6.5" fill="url(#hR)" stroke="#000" stroke-width="1" />
<line x1="1493.3" y1="716.7" x2="1493.3" y2="834.0" stroke="#3c3c3c" stroke-width="1.2"  shape-rendering="crispEdges"/>
<line x1="1493.3" y1="846.0" x2="1493.3" y2="964.0" stroke="#3c3c3c" stroke-width="1.2"  shape-rendering="crispEdges"/>
<line x1="1486.0" y1="840.8" x2="1500.6" y2="827.2" stroke="#222" stroke-width="1" />
<line x1="1486.0" y1="855.8" x2="1500.6" y2="842.2" stroke="#222" stroke-width="1" />
<line x1="1489.3" y1="964.0" x2="1836.4" y2="964.0" stroke="#111" stroke-width="1"  shape-rendering="crispEdges"/>
<line x1="1488.8" y1="807.3" x2="1493.3" y2="807.3" stroke="#3c3c3c" stroke-width="1"  shape-rendering="crispEdges"/>
<text x="1480.3" y="811.9" font-size="14.5" text-anchor="end" textLength="27.1" lengthAdjust="spacingAndGlyphs">100</text>
<line x1="1488.8" y1="778.9" x2="1493.3" y2="778.9" stroke="#3c3c3c" stroke-width="1"  shape-rendering="crispEdges"/>
<text x="1480.3" y="783.5" font-size="14.5" text-anchor="end" textLength="27.1" lengthAdjust="spacingAndGlyphs">200</text>
<line x1="1488.8" y1="750.4" x2="1493.3" y2="750.4" stroke="#3c3c3c" stroke-width="1"  shape-rendering="crispEdges"/>
<text x="1480.3" y="755.0" font-size="14.5" text-anchor="end" textLength="27.1" lengthAdjust="spacingAndGlyphs">300</text>
<line x1="1488.8" y1="722.0" x2="1493.3" y2="722.0" stroke="#3c3c3c" stroke-width="1"  shape-rendering="crispEdges"/>
<text x="1480.3" y="726.6" font-size="14.5" text-anchor="end" textLength="27.1" lengthAdjust="spacingAndGlyphs">400</text>
<line x1="1488.8" y1="963.5" x2="1493.3" y2="963.5" stroke="#3c3c3c" stroke-width="1"  shape-rendering="crispEdges"/>
<text x="1480.5" y="969.1" font-size="17" text-anchor="end" textLength="10.9" lengthAdjust="spacingAndGlyphs">0</text>
<line x1="1488.8" y1="946.8" x2="1493.3" y2="946.8" stroke="#3c3c3c" stroke-width="1"  shape-rendering="crispEdges"/>
<text x="1480.5" y="952.4" font-size="17" text-anchor="end" textLength="10.9" lengthAdjust="spacingAndGlyphs">1</text>
<line x1="1488.8" y1="930.1" x2="1493.3" y2="930.1" stroke="#3c3c3c" stroke-width="1"  shape-rendering="crispEdges"/>
<text x="1480.5" y="935.7" font-size="17" text-anchor="end" textLength="10.9" lengthAdjust="spacingAndGlyphs">2</text>
<line x1="1488.8" y1="913.3" x2="1493.3" y2="913.3" stroke="#3c3c3c" stroke-width="1"  shape-rendering="crispEdges"/>
<text x="1480.5" y="918.9" font-size="17" text-anchor="end" textLength="10.9" lengthAdjust="spacingAndGlyphs">3</text>
<line x1="1488.8" y1="896.6" x2="1493.3" y2="896.6" stroke="#3c3c3c" stroke-width="1"  shape-rendering="crispEdges"/>
<text x="1480.5" y="902.2" font-size="17" text-anchor="end" textLength="10.9" lengthAdjust="spacingAndGlyphs">4</text>
<line x1="1488.8" y1="879.9" x2="1493.3" y2="879.9" stroke="#3c3c3c" stroke-width="1"  shape-rendering="crispEdges"/>
<text x="1480.5" y="885.5" font-size="17" text-anchor="end" textLength="10.9" lengthAdjust="spacingAndGlyphs">5</text>
<line x1="1488.8" y1="863.2" x2="1493.3" y2="863.2" stroke="#3c3c3c" stroke-width="1"  shape-rendering="crispEdges"/>
<text x="1480.5" y="868.8" font-size="17" text-anchor="end" textLength="10.9" lengthAdjust="spacingAndGlyphs">6</text>
<line x1="1488.8" y1="846.5" x2="1493.3" y2="846.5" stroke="#3c3c3c" stroke-width="1"  shape-rendering="crispEdges"/>
<text x="1480.5" y="852.1" font-size="17" text-anchor="end" textLength="10.9" lengthAdjust="spacingAndGlyphs">7</text>
<line x1="1549.6" y1="963.5" x2="1549.6" y2="967.5" stroke="#3c3c3c" stroke-width="1"  shape-rendering="crispEdges"/>
<text x="1546.6" y="987.0" font-size="15" text-anchor="middle">0</text>
<line x1="1606.8" y1="963.5" x2="1606.8" y2="967.5" stroke="#3c3c3c" stroke-width="1"  shape-rendering="crispEdges"/>
<text x="1603.8" y="987.0" font-size="15" text-anchor="middle">2</text>
<line x1="1663.5" y1="963.5" x2="1663.5" y2="967.5" stroke="#3c3c3c" stroke-width="1"  shape-rendering="crispEdges"/>
<text x="1660.5" y="987.0" font-size="15" text-anchor="middle">4</text>
<line x1="1721.2" y1="963.5" x2="1721.2" y2="967.5" stroke="#3c3c3c" stroke-width="1"  shape-rendering="crispEdges"/>
<text x="1718.2" y="987.0" font-size="15" text-anchor="middle">8</text>
<line x1="1779.4" y1="963.5" x2="1779.4" y2="967.5" stroke="#3c3c3c" stroke-width="1"  shape-rendering="crispEdges"/>
<text x="1776.4" y="987.0" font-size="15" text-anchor="middle">12</text>
<text x="1663.6" y="719.1" font-size="18.5" text-anchor="middle" textLength="200.0" lengthAdjust="spacingAndGlyphs">Collagen 2 / Collagen 1</text>
<rect x="1746.7" y="732.4" width="26.2" height="8.5" fill="#ff0000" stroke="#600" stroke-width="0.8" rx="1"/>
<rect x="1746.7" y="748.2" width="26.2" height="8.5" fill="#0000ff" stroke="#006" stroke-width="0.8" rx="1"/>
<text x="1778.9" y="739.7" font-size="11" textLength="41.7" lengthAdjust="spacingAndGlyphs">cell-free</text>
<text x="1778.9" y="755.9" font-size="11" textLength="55.8" lengthAdjust="spacingAndGlyphs">cell-loaded</text>
<rect x="1209.4" y="1255.3" width="10.6" height="4.2" fill="#0000ff" stroke="#000" stroke-width="1" />
<rect x="1221.0" y="1255.3" width="10.6" height="4.2" fill="url(#hB)" stroke="#000" stroke-width="1" />
<rect x="1232.6" y="1255.3" width="10.6" height="4.2" fill="url(#dB)" stroke="#000" stroke-width="1" />
<rect x="1266.1" y="1255.3" width="10.6" height="4.2" fill="#0000ff" stroke="#000" stroke-width="1" />
<rect x="1277.7" y="1244.9" width="10.6" height="14.6" fill="url(#hB)" stroke="#000" stroke-width="1" />
<rect x="1289.3" y="1142.4" width="10.6" height="117.1" fill="url(#dB)" stroke="#000" stroke-width="1" />
<line x1="1352.9" y1="1193.6" x2="1352.9" y2="1217.2" stroke="#000" stroke-width="1"  shape-rendering="crispEdges"/>
<line x1="1349.4" y1="1193.6" x2="1356.4" y2="1193.6" stroke="#000" stroke-width="1"  shape-rendering="crispEdges"/>
<rect x="1347.6" y="1217.7" width="10.6" height="41.8" fill="url(#dB)" stroke="#000" stroke-width="1" />
<line x1="1385.9" y1="1226.6" x2="1385.9" y2="1242.6" stroke="#000" stroke-width="1"  shape-rendering="crispEdges"/>
<line x1="1382.4" y1="1226.6" x2="1389.4" y2="1226.6" stroke="#000" stroke-width="1"  shape-rendering="crispEdges"/>
<rect x="1380.6" y="1243.1" width="10.6" height="16.4" fill="#0000ff" stroke="#000" stroke-width="1" />
<line x1="1397.5" y1="1186.1" x2="1397.5" y2="1221.9" stroke="#000" stroke-width="1"  shape-rendering="crispEdges"/>
<line x1="1394.0" y1="1186.1" x2="1401.0" y2="1186.1" stroke="#000" stroke-width="1"  shape-rendering="crispEdges"/>
<rect x="1392.2" y="1222.4" width="10.6" height="37.1" fill="url(#hB)" stroke="#000" stroke-width="1" />
<line x1="1409.1" y1="1148.5" x2="1409.1" y2="1200.2" stroke="#000" stroke-width="1"  shape-rendering="crispEdges"/>
<line x1="1405.6" y1="1148.5" x2="1412.6" y2="1148.5" stroke="#000" stroke-width="1"  shape-rendering="crispEdges"/>
<rect x="1403.8" y="1200.7" width="10.6" height="58.8" fill="url(#dB)" stroke="#000" stroke-width="1" />
<line x1="1294.6" y1="1087.5" x2="1294.6" y2="1119.3" stroke="#000" stroke-width="1"  shape-rendering="crispEdges"/>
<line x1="1291.1" y1="1087.5" x2="1298.1" y2="1087.5" stroke="#000" stroke-width="1"  shape-rendering="crispEdges"/>
<rect x="1289.3" y="1119.8" width="10.6" height="8.5" fill="url(#dB)" stroke="#000" stroke-width="1" />
<line x1="1112.5" y1="1011.3" x2="1112.5" y2="1128.8" stroke="#3c3c3c" stroke-width="1.2"  shape-rendering="crispEdges"/>
<line x1="1112.5" y1="1141.0" x2="1112.5" y2="1260.0" stroke="#3c3c3c" stroke-width="1.2"  shape-rendering="crispEdges"/>
<line x1="1105.2" y1="1135.6" x2="1119.8" y2="1122.0" stroke="#222" stroke-width="1" />
<line x1="1105.2" y1="1149.8" x2="1119.8" y2="1136.2" stroke="#222" stroke-width="1" />
<line x1="1108.5" y1="1260.0" x2="1452.0" y2="1260.0" stroke="#111" stroke-width="1"  shape-rendering="crispEdges"/>
<line x1="1108.0" y1="1120.5" x2="1112.5" y2="1120.5" stroke="#3c3c3c" stroke-width="1"  shape-rendering="crispEdges"/>
<text x="1100.8" y="1126.1" font-size="16" text-anchor="end">40</text>
<line x1="1108.0" y1="1102.4" x2="1112.5" y2="1102.4" stroke="#3c3c3c" stroke-width="1"  shape-rendering="crispEdges"/>
<text x="1100.8" y="1108.0" font-size="16" text-anchor="end">60</text>
<line x1="1108.0" y1="1084.3" x2="1112.5" y2="1084.3" stroke="#3c3c3c" stroke-width="1"  shape-rendering="crispEdges"/>
<text x="1100.8" y="1089.9" font-size="16" text-anchor="end">80</text>
<line x1="1108.0" y1="1066.2" x2="1112.5" y2="1066.2" stroke="#3c3c3c" stroke-width="1"  shape-rendering="crispEdges"/>
<text x="1100.8" y="1071.8" font-size="16" text-anchor="end">100</text>
<line x1="1108.0" y1="1048.1" x2="1112.5" y2="1048.1" stroke="#3c3c3c" stroke-width="1"  shape-rendering="crispEdges"/>
<text x="1100.8" y="1053.7" font-size="16" text-anchor="end">120</text>
<line x1="1108.0" y1="1030.0" x2="1112.5" y2="1030.0" stroke="#3c3c3c" stroke-width="1"  shape-rendering="crispEdges"/>
<text x="1100.8" y="1035.6" font-size="16" text-anchor="end">140</text>
<line x1="1108.0" y1="1011.9" x2="1112.5" y2="1011.9" stroke="#3c3c3c" stroke-width="1"  shape-rendering="crispEdges"/>
<text x="1100.8" y="1017.5" font-size="16" text-anchor="end">160</text>
<line x1="1108.0" y1="1259.5" x2="1112.5" y2="1259.5" stroke="#3c3c3c" stroke-width="1"  shape-rendering="crispEdges"/>
<text x="1100.8" y="1265.1" font-size="16" text-anchor="end">0</text>
<line x1="1108.0" y1="1236.0" x2="1112.5" y2="1236.0" stroke="#3c3c3c" stroke-width="1"  shape-rendering="crispEdges"/>
<text x="1100.8" y="1241.6" font-size="16" text-anchor="end">5</text>
<line x1="1108.0" y1="1212.5" x2="1112.5" y2="1212.5" stroke="#3c3c3c" stroke-width="1"  shape-rendering="crispEdges"/>
<text x="1100.8" y="1218.1" font-size="16" text-anchor="end">10</text>
<line x1="1108.0" y1="1188.9" x2="1112.5" y2="1188.9" stroke="#3c3c3c" stroke-width="1"  shape-rendering="crispEdges"/>
<text x="1100.8" y="1194.5" font-size="16" text-anchor="end">15</text>
<line x1="1108.0" y1="1165.4" x2="1112.5" y2="1165.4" stroke="#3c3c3c" stroke-width="1"  shape-rendering="crispEdges"/>
<text x="1100.8" y="1171.0" font-size="16" text-anchor="end">20</text>
<line x1="1108.0" y1="1141.9" x2="1112.5" y2="1141.9" stroke="#3c3c3c" stroke-width="1"  shape-rendering="crispEdges"/>
<text x="1100.8" y="1147.5" font-size="16" text-anchor="end">25</text>
<line x1="1169.5" y1="1259.5" x2="1169.5" y2="1263.5" stroke="#3c3c3c" stroke-width="1"  shape-rendering="crispEdges"/>
<text x="1166.9" y="1283.9" font-size="16" text-anchor="middle">0</text>
<line x1="1226.3" y1="1259.5" x2="1226.3" y2="1263.5" stroke="#3c3c3c" stroke-width="1"  shape-rendering="crispEdges"/>
<text x="1223.7" y="1283.9" font-size="16" text-anchor="middle">2</text>
<line x1="1283.0" y1="1259.5" x2="1283.0" y2="1263.5" stroke="#3c3c3c" stroke-width="1"  shape-rendering="crispEdges"/>
<text x="1280.4" y="1283.9" font-size="16" text-anchor="middle">4</text>
<line x1="1341.3" y1="1259.5" x2="1341.3" y2="1263.5" stroke="#3c3c3c" stroke-width="1"  shape-rendering="crispEdges"/>
<text x="1338.7" y="1283.9" font-size="16" text-anchor="middle">8</text>
<line x1="1397.5" y1="1259.5" x2="1397.5" y2="1263.5" stroke="#3c3c3c" stroke-width="1"  shape-rendering="crispEdges"/>
<text x="1394.9" y="1283.9" font-size="16" text-anchor="middle">12</text>
<text x="1277.7" y="1018.8" font-size="18.5" text-anchor="middle" textLength="190.5" lengthAdjust="spacingAndGlyphs">Aggrecan / Collagen 1</text>
<rect x="1591.1" y="1257.6" width="10.6" height="1.9" fill="#000030" stroke="#000" stroke-width="1" />
<rect x="1602.7" y="1257.6" width="10.6" height="1.9" fill="#000030" stroke="#000" stroke-width="1" />
<rect x="1614.3" y="1257.6" width="10.6" height="1.9" fill="#000030" stroke="#000" stroke-width="1" />
<rect x="1648.6" y="1257.6" width="10.6" height="1.9" fill="#000030" stroke="#000" stroke-width="1" />
<rect x="1660.2" y="1205.6" width="10.6" height="53.9" fill="url(#hB)" stroke="#000" stroke-width="1" />
<rect x="1671.8" y="1141.8" width="10.6" height="117.8" fill="url(#dB)" stroke="#000" stroke-width="1" />
<line x1="1734.1" y1="1245.3" x2="1734.1" y2="1247.7" stroke="#000" stroke-width="1"  shape-rendering="crispEdges"/>
<line x1="1730.6" y1="1245.3" x2="1737.6" y2="1245.3" stroke="#000" stroke-width="1"  shape-rendering="crispEdges"/>
<rect x="1728.8" y="1248.2" width="10.6" height="11.3" fill="url(#dB)" stroke="#000" stroke-width="1" />
<line x1="1768.9" y1="1233.5" x2="1768.9" y2="1245.3" stroke="#000" stroke-width="1"  shape-rendering="crispEdges"/>
<line x1="1765.4" y1="1233.5" x2="1772.4" y2="1233.5" stroke="#000" stroke-width="1"  shape-rendering="crispEdges"/>
<rect x="1763.6" y="1245.8" width="10.6" height="13.7" fill="#0000ff" stroke="#000" stroke-width="1" />
<line x1="1780.5" y1="1148.3" x2="1780.5" y2="1189.7" stroke="#000" stroke-width="1"  shape-rendering="crispEdges"/>
<line x1="1777.0" y1="1148.3" x2="1784.0" y2="1148.3" stroke="#000" stroke-width="1"  shape-rendering="crispEdges"/>
<rect x="1775.2" y="1190.2" width="10.6" height="69.3" fill="url(#hB)" stroke="#000" stroke-width="1" />
<line x1="1792.1" y1="1244.1" x2="1792.1" y2="1249.1" stroke="#000" stroke-width="1"  shape-rendering="crispEdges"/>
<line x1="1788.6" y1="1244.1" x2="1795.6" y2="1244.1" stroke="#000" stroke-width="1"  shape-rendering="crispEdges"/>
<rect x="1786.8" y="1249.6" width="10.6" height="9.9" fill="url(#dB)" stroke="#000" stroke-width="1" />
<line x1="1677.1" y1="1023.3" x2="1677.1" y2="1107.0" stroke="#000" stroke-width="1"  shape-rendering="crispEdges"/>
<line x1="1673.6" y1="1023.3" x2="1680.6" y2="1023.3" stroke="#000" stroke-width="1"  shape-rendering="crispEdges"/>
<rect x="1671.8" y="1107.5" width="10.6" height="20.8" fill="url(#dB)" stroke="#000" stroke-width="1" />
<line x1="1495.0" y1="1013.8" x2="1495.0" y2="1129.3" stroke="#3c3c3c" stroke-width="1.2"  shape-rendering="crispEdges"/>
<line x1="1495.0" y1="1141.0" x2="1495.0" y2="1260.0" stroke="#3c3c3c" stroke-width="1.2"  shape-rendering="crispEdges"/>
<line x1="1487.7" y1="1136.1" x2="1502.3" y2="1122.5" stroke="#222" stroke-width="1" />
<line x1="1487.7" y1="1149.8" x2="1502.3" y2="1136.2" stroke="#222" stroke-width="1" />
<line x1="1491.0" y1="1260.0" x2="1838.0" y2="1260.0" stroke="#111" stroke-width="1"  shape-rendering="crispEdges"/>
<line x1="1490.5" y1="1107.0" x2="1495.0" y2="1107.0" stroke="#3c3c3c" stroke-width="1"  shape-rendering="crispEdges"/>
<text x="1483.0" y="1112.3" font-size="15" text-anchor="end">200</text>
<line x1="1490.5" y1="1063.7" x2="1495.0" y2="1063.7" stroke="#3c3c3c" stroke-width="1"  shape-rendering="crispEdges"/>
<text x="1483.0" y="1069.0" font-size="15" text-anchor="end">300</text>
<line x1="1490.5" y1="1020.4" x2="1495.0" y2="1020.4" stroke="#3c3c3c" stroke-width="1"  shape-rendering="crispEdges"/>
<text x="1483.0" y="1025.7" font-size="15" text-anchor="end">400</text>
<line x1="1490.5" y1="1259.5" x2="1495.0" y2="1259.5" stroke="#3c3c3c" stroke-width="1"  shape-rendering="crispEdges"/>
<text x="1483.0" y="1264.8" font-size="15" text-anchor="end">0</text>
<line x1="1490.5" y1="1235.8" x2="1495.0" y2="1235.8" stroke="#3c3c3c" stroke-width="1"  shape-rendering="crispEdges"/>
<text x="1483.0" y="1241.1" font-size="15" text-anchor="end">10</text>
<line x1="1490.5" y1="1212.2" x2="1495.0" y2="1212.2" stroke="#3c3c3c" stroke-width="1"  shape-rendering="crispEdges"/>
<text x="1483.0" y="1217.5" font-size="15" text-anchor="end">20</text>
<line x1="1490.5" y1="1188.5" x2="1495.0" y2="1188.5" stroke="#3c3c3c" stroke-width="1"  shape-rendering="crispEdges"/>
<text x="1483.0" y="1193.8" font-size="15" text-anchor="end">30</text>
<line x1="1490.5" y1="1164.9" x2="1495.0" y2="1164.9" stroke="#3c3c3c" stroke-width="1"  shape-rendering="crispEdges"/>
<text x="1483.0" y="1170.2" font-size="15" text-anchor="end">40</text>
<line x1="1490.5" y1="1141.2" x2="1495.0" y2="1141.2" stroke="#3c3c3c" stroke-width="1"  shape-rendering="crispEdges"/>
<text x="1483.0" y="1146.5" font-size="15" text-anchor="end">50</text>
<line x1="1551.0" y1="1259.5" x2="1551.0" y2="1263.5" stroke="#3c3c3c" stroke-width="1"  shape-rendering="crispEdges"/>
<text x="1548.4" y="1283.6" font-size="16" text-anchor="middle">0</text>
<line x1="1608.0" y1="1259.5" x2="1608.0" y2="1263.5" stroke="#3c3c3c" stroke-width="1"  shape-rendering="crispEdges"/>
<text x="1605.4" y="1283.6" font-size="16" text-anchor="middle">2</text>
<line x1="1665.5" y1="1259.5" x2="1665.5" y2="1263.5" stroke="#3c3c3c" stroke-width="1"  shape-rendering="crispEdges"/>
<text x="1662.9" y="1283.6" font-size="16" text-anchor="middle">4</text>
<line x1="1722.5" y1="1259.5" x2="1722.5" y2="1263.5" stroke="#3c3c3c" stroke-width="1"  shape-rendering="crispEdges"/>
<text x="1719.9" y="1283.6" font-size="16" text-anchor="middle">8</text>
<line x1="1780.5" y1="1259.5" x2="1780.5" y2="1263.5" stroke="#3c3c3c" stroke-width="1"  shape-rendering="crispEdges"/>
<text x="1777.9" y="1283.6" font-size="16" text-anchor="middle">12</text>
<text x="1662.5" y="1017.0" font-size="18.5" text-anchor="middle" textLength="200.0" lengthAdjust="spacingAndGlyphs">Collagen 2 / Collagen 1</text>
<text x="1431.3" y="1315.2" font-size="18.5" font-weight="bold" textLength="117.2" lengthAdjust="spacingAndGlyphs">time (weeks)</text>
<text font-size="19" font-weight="bold" text-anchor="middle" textLength="199" lengthAdjust="spacingAndGlyphs" transform="translate(1057.8 990.5) rotate(-90)">Rel. Expression <tspan font-weight="normal">ΔΔ</tspan>Ct</text>
<text x="14.5" y="39.7" font-size="40" font-weight="bold" textLength="1824.0" lengthAdjust="spacingAndGlyphs">Three-dimensional (3-D) laser perforation and cell seeding improve the performance of bacterial</text>
<text x="14.5" y="91.2" font-size="40" font-weight="bold" textLength="1557.0" lengthAdjust="spacingAndGlyphs">nanocellulose as a potential cartilage implant in the in vitro cartilage punch model</text>
<text x="14.2" y="257.8" font-size="38" textLength="626" lengthAdjust="spacingAndGlyphs">three-dimensional perforation (<tspan font-size="41.5" stroke="#000" stroke-width="0.4">∅</tspan>) of</text>
<text x="2.5" y="308.1" font-size="38" textLength="652.0" lengthAdjust="spacingAndGlyphs">bacterial nanocellulose (BNC) implants</text>
<text x="689" y="259.5" font-size="38" textLength="596" lengthAdjust="spacingAndGlyphs">long-term cultivation of 3-D-<tspan font-size="41.5" stroke="#000" stroke-width="0.4">∅</tspan> BNC</text>
<text x="846.6" y="306.7" font-size="38" textLength="280.0" lengthAdjust="spacingAndGlyphs">(up to 12 weeks)</text>
<text x="1034.5" y="144.3" font-size="23" font-weight="bold" textLength="72.0" lengthAdjust="spacingAndGlyphs">bovine</text>
<text x="1024.0" y="176.4" font-size="23" font-weight="bold" textLength="92.0" lengthAdjust="spacingAndGlyphs">cartilage</text>
<text x="666.0" y="519.7" font-size="32.5" textLength="139.4" lengthAdjust="spacingAndGlyphs">increased</text>
<text x="666.0" y="563.6" font-size="32.5" textLength="131.5" lengthAdjust="spacingAndGlyphs">push-out</text>
<text x="666.0" y="607.4" font-size="32.5" textLength="88.5" lengthAdjust="spacingAndGlyphs">forces</text>
<text x="666.0" y="651.2" font-size="32.5" textLength="140.2" lengthAdjust="spacingAndGlyphs">over time</text>
<text style="font-family:'DejaVu Sans',sans-serif" font-size="54" transform="translate(38.6 1135.2) scale(1 1.45)">→</text>
<text style="font-family:'DejaVu Sans',sans-serif" font-size="54" transform="translate(38.6 1249.2) scale(1 1.45)">→</text>
<text x="96.4" y="1127.6" font-size="41" font-weight="bold" textLength="907.6" lengthAdjust="spacingAndGlyphs">three-dimensional perforation and cell loading</text>
<text x="94.5" y="1184.0" font-size="41" font-weight="bold" textLength="898.0" lengthAdjust="spacingAndGlyphs">may improve performance of the BNC implant</text>
<text x="85" y="1240.9" font-size="41" font-weight="bold" textLength="867.5" lengthAdjust="spacingAndGlyphs">cell-loading of 3-D-<tspan font-size="47" stroke="#000" stroke-width="1.7">∅</tspan> BNC may favor implant</text>
<text x="83.0" y="1296.4" font-size="41" font-weight="bold" textLength="879.5" lengthAdjust="spacingAndGlyphs">performance by accelerating cell colonization</text>
<text x="0.0" y="0.0" font-size="32.5" text-anchor="middle" textLength="119.0" lengthAdjust="spacingAndGlyphs" transform="translate(1357 255.5) rotate(-16.2)">cell-free</text>
<text x="0.0" y="0.0" font-size="32.5" text-anchor="middle" textLength="155.0" lengthAdjust="spacingAndGlyphs" transform="translate(1345.7 407.3) rotate(37.4)">cell-loaded</text>
<text x="0.0" y="0.0" font-size="32.5" text-anchor="middle" textLength="531.6" lengthAdjust="spacingAndGlyphs" transform="translate(536.9 500.3) rotate(-34.5)">increased 3-D cell seeding over time</text>
<text x="0.0" y="0.0" font-size="32.5" text-anchor="middle" textLength="328.6" lengthAdjust="spacingAndGlyphs" transform="translate(1019 474) rotate(37.6)">increased mRNA ratios</text>
</svg>
</body></html>
